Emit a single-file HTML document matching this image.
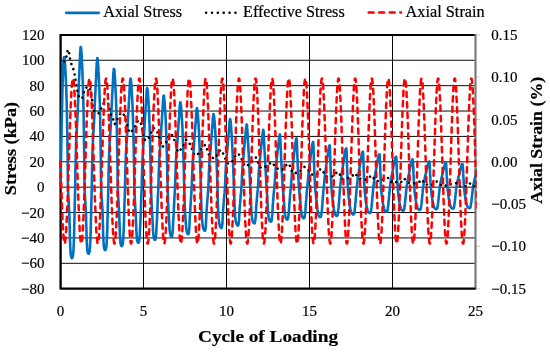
<!DOCTYPE html>
<html><head><meta charset="utf-8"><title>Cycle of Loading</title>
<style>
html,body{margin:0;padding:0;background:#fff;}
svg{display:block;}
text{font-family:"Liberation Serif",serif;fill:#000;stroke:#000;stroke-width:0.2px;}
.t{font-size:15.0px;}
.b{font-weight:bold;}
</style></head><body>
<svg width="550" height="353" viewBox="0 0 550 353">
<rect width="550" height="353" fill="#fff"/>
<g stroke="#0a0a0a" stroke-width="1" fill="none">
<line x1="60.5" y1="60.28" x2="475.5" y2="60.28"/>
<line x1="60.5" y1="85.66" x2="475.5" y2="85.66"/>
<line x1="60.5" y1="111.04" x2="475.5" y2="111.04"/>
<line x1="60.5" y1="136.42" x2="475.5" y2="136.42"/>
<line x1="60.5" y1="161.80" x2="475.5" y2="161.80"/>
<line x1="60.5" y1="187.18" x2="475.5" y2="187.18"/>
<line x1="60.5" y1="212.56" x2="475.5" y2="212.56"/>
<line x1="60.5" y1="237.94" x2="475.5" y2="237.94"/>
<line x1="60.5" y1="263.32" x2="475.5" y2="263.32"/>
<line x1="143.50" y1="34.9" x2="143.50" y2="288.7"/>
<line x1="226.50" y1="34.9" x2="226.50" y2="288.7"/>
<line x1="309.50" y1="34.9" x2="309.50" y2="288.7"/>
<line x1="392.50" y1="34.9" x2="392.50" y2="288.7"/>
</g>
<g stroke="#d0d0d0" stroke-width="1">
<line x1="475.5" y1="34.90" x2="480.0" y2="34.90"/>
<line x1="475.5" y1="77.20" x2="480.0" y2="77.20"/>
<line x1="475.5" y1="119.50" x2="480.0" y2="119.50"/>
<line x1="475.5" y1="161.80" x2="480.0" y2="161.80"/>
<line x1="475.5" y1="204.10" x2="480.0" y2="204.10"/>
<line x1="475.5" y1="246.40" x2="480.0" y2="246.40"/>
<line x1="475.5" y1="288.70" x2="480.0" y2="288.70"/>
</g>
<line x1="60.5" y1="34.9" x2="475.5" y2="34.9" stroke="#000" stroke-width="2"/>
<line x1="475.5" y1="33.9" x2="475.5" y2="289.7" stroke="#7a7a7a" stroke-width="2.2"/>
<polyline points="60.6,33.9 60.6,288.7 475.5,288.7" fill="none" stroke="#000" stroke-width="2.3" stroke-linejoin="round"/>
<clipPath id="pc"><rect x="57.5" y="34.9" width="419.2" height="253.79999999999998"/></clipPath>
<g clip-path="url(#pc)">
<path d="M60.5,187.2 L60.6,179.4 L60.8,171.7 L60.9,164.1 L61.1,156.5 L61.2,149.0 L61.3,141.7 L61.5,134.5 L61.6,127.5 L61.7,120.7 L61.9,114.2 L62.0,107.9 L62.2,101.9 L62.3,96.2 L62.4,90.8 L62.6,85.8 L62.7,81.1 L62.9,76.8 L63.0,72.9 L63.1,69.4 L63.3,66.3 L63.4,63.6 L63.5,61.4 L63.7,59.6 L63.8,58.3 L64.0,57.4 L64.1,57.0 L64.2,57.0 L64.4,57.3 L64.5,58.0 L64.7,59.1 L64.8,60.5 L64.9,62.3 L65.1,64.3 L65.2,66.5 L65.3,69.0 L65.5,71.6 L65.6,74.4 L65.8,77.3 L65.9,80.3 L66.0,83.3 L66.2,86.5 L66.3,90.3 L66.4,94.7 L66.6,99.7 L66.7,105.2 L66.9,111.2 L67.0,117.7 L67.1,125.0 L67.3,134.3 L67.4,144.6 L67.6,155.0 L67.7,166.2 L67.8,177.7 L68.0,187.2 L68.1,191.0 L68.2,194.2 L68.4,197.1 L68.5,199.7 L68.7,202.1 L68.8,204.4 L68.9,206.8 L69.1,209.4 L69.2,212.3 L69.4,215.6 L69.5,219.6 L69.6,224.8 L69.8,230.8 L69.9,236.8 L70.0,241.7 L70.2,245.1 L70.3,248.0 L70.5,250.5 L70.6,252.7 L70.7,254.3 L70.9,255.3 L71.0,255.9 L71.2,256.5 L71.3,257.0 L71.4,257.4 L71.6,257.7 L71.7,257.9 L71.8,258.1 L72.0,258.1 L72.1,258.0 L72.3,257.8 L72.4,257.5 L72.5,257.1 L72.7,256.6 L72.8,256.0 L73.0,255.4 L73.1,254.7 L73.2,253.4 L73.4,251.5 L73.5,249.2 L73.6,246.5 L73.8,243.5 L73.9,239.8 L74.1,234.9 L74.2,229.3 L74.3,223.3 L74.5,217.6 L74.6,211.8 L74.7,205.7 L74.9,199.4 L75.0,193.5 L75.2,188.1 L75.3,179.7 L75.4,170.6 L75.6,162.4 L75.7,155.8 L75.9,151.0 L76.0,146.9 L76.1,143.2 L76.3,139.9 L76.4,136.9 L76.5,134.1 L76.7,131.6 L76.8,129.1 L77.0,126.7 L77.1,124.3 L77.2,121.8 L77.4,119.2 L77.5,116.3 L77.7,113.2 L77.8,109.9 L77.9,106.4 L78.1,102.9 L78.2,99.4 L78.3,95.8 L78.5,92.3 L78.6,88.8 L78.8,85.4 L78.9,82.2 L79.0,79.1 L79.2,76.1 L79.3,72.8 L79.5,69.5 L79.6,66.0 L79.7,62.6 L79.9,59.3 L80.0,56.2 L80.1,53.4 L80.3,51.0 L80.4,49.0 L80.6,47.7 L80.7,47.0 L80.8,47.0 L81.0,47.6 L81.1,48.5 L81.2,49.9 L81.4,51.6 L81.5,53.6 L81.7,56.0 L81.8,58.6 L81.9,61.4 L82.1,64.4 L82.2,67.5 L82.4,70.7 L82.5,74.0 L82.6,77.4 L82.8,80.9 L82.9,85.1 L83.0,89.9 L83.2,95.2 L83.3,101.1 L83.5,107.6 L83.6,114.5 L83.7,122.2 L83.9,132.0 L84.0,142.8 L84.2,153.7 L84.3,165.3 L84.4,177.3 L84.6,187.2 L84.7,190.8 L84.8,193.9 L85.0,196.6 L85.1,199.1 L85.3,201.3 L85.4,203.6 L85.5,205.9 L85.7,208.3 L85.8,211.0 L86.0,214.1 L86.1,217.9 L86.2,222.8 L86.4,228.5 L86.5,234.1 L86.6,238.8 L86.8,241.9 L86.9,244.6 L87.1,247.0 L87.2,249.0 L87.3,250.5 L87.5,251.4 L87.6,251.9 L87.8,252.4 L87.9,252.9 L88.0,253.2 L88.2,253.5 L88.3,253.7 L88.4,253.8 L88.6,253.8 L88.7,253.7 L88.9,253.5 L89.0,253.2 L89.1,252.8 L89.3,252.4 L89.4,251.8 L89.6,251.3 L89.7,250.6 L89.8,249.4 L90.0,247.6 L90.1,245.4 L90.2,242.9 L90.4,240.1 L90.5,236.6 L90.7,232.0 L90.8,226.7 L90.9,221.2 L91.1,215.8 L91.2,210.4 L91.3,204.5 L91.5,198.7 L91.6,193.1 L91.8,188.1 L91.9,180.0 L92.0,171.3 L92.2,163.5 L92.3,157.2 L92.5,152.6 L92.6,148.7 L92.7,145.3 L92.9,142.2 L93.0,139.4 L93.1,136.8 L93.3,134.5 L93.4,132.2 L93.6,130.0 L93.7,127.8 L93.8,125.5 L94.0,123.1 L94.1,120.5 L94.3,117.6 L94.4,114.5 L94.5,111.4 L94.7,108.2 L94.8,105.0 L94.9,101.7 L95.1,98.5 L95.2,95.4 L95.4,92.3 L95.5,89.4 L95.6,86.6 L95.8,83.9 L95.9,81.0 L96.1,77.9 L96.2,74.8 L96.3,71.7 L96.5,68.8 L96.6,66.0 L96.7,63.5 L96.9,61.4 L97.0,59.7 L97.2,58.5 L97.3,58.0 L97.4,58.1 L97.6,58.7 L97.7,59.7 L97.8,61.0 L98.0,62.6 L98.1,64.6 L98.3,66.8 L98.4,69.3 L98.5,71.9 L98.7,74.7 L98.8,77.6 L99.0,80.6 L99.1,83.7 L99.2,86.8 L99.4,90.1 L99.5,93.9 L99.6,98.3 L99.8,103.3 L99.9,108.7 L100.1,114.6 L100.2,120.9 L100.3,128.0 L100.5,136.9 L100.6,146.8 L100.8,156.7 L100.9,167.3 L101.0,178.2 L101.2,187.2 L101.3,190.6 L101.4,193.5 L101.6,196.1 L101.7,198.4 L101.9,200.5 L102.0,202.7 L102.1,204.8 L102.3,207.1 L102.4,209.7 L102.6,212.6 L102.7,216.2 L102.8,220.9 L103.0,226.2 L103.1,231.5 L103.2,235.9 L103.4,238.9 L103.5,241.4 L103.7,243.7 L103.8,245.6 L103.9,247.0 L104.1,247.8 L104.2,248.4 L104.4,248.8 L104.5,249.2 L104.6,249.6 L104.8,249.8 L104.9,250.0 L105.0,250.1 L105.2,250.1 L105.3,250.0 L105.5,249.8 L105.6,249.5 L105.7,249.2 L105.9,248.8 L106.0,248.3 L106.2,247.7 L106.3,247.1 L106.4,245.9 L106.6,244.3 L106.7,242.2 L106.8,239.8 L107.0,237.2 L107.1,233.9 L107.3,229.5 L107.4,224.5 L107.5,219.3 L107.7,214.2 L107.8,209.1 L107.9,203.6 L108.1,198.1 L108.2,192.8 L108.4,188.0 L108.5,180.6 L108.6,172.7 L108.8,165.5 L108.9,159.8 L109.1,155.7 L109.2,152.1 L109.3,148.9 L109.5,146.1 L109.6,143.5 L109.7,141.2 L109.9,139.0 L110.0,136.9 L110.2,134.9 L110.3,132.9 L110.4,130.8 L110.6,128.6 L110.7,126.2 L110.9,123.5 L111.0,120.7 L111.1,117.9 L111.3,114.9 L111.4,112.0 L111.5,109.0 L111.7,106.1 L111.8,103.2 L112.0,100.3 L112.1,97.6 L112.2,95.1 L112.4,92.6 L112.5,89.9 L112.7,87.1 L112.8,84.3 L112.9,81.5 L113.1,78.7 L113.2,76.2 L113.3,73.9 L113.5,71.9 L113.6,70.4 L113.8,69.3 L113.9,68.8 L114.0,68.9 L114.2,69.4 L114.3,70.3 L114.5,71.6 L114.6,73.1 L114.7,74.9 L114.9,77.0 L115.0,79.3 L115.1,81.7 L115.3,84.3 L115.4,87.0 L115.6,89.8 L115.7,92.6 L115.8,95.5 L116.0,98.6 L116.1,102.2 L116.2,106.3 L116.4,110.9 L116.5,115.9 L116.7,121.3 L116.8,127.1 L116.9,133.6 L117.1,141.7 L117.2,150.6 L117.4,159.5 L117.5,169.0 L117.6,178.7 L117.8,186.8 L117.9,190.3 L118.0,193.3 L118.2,196.2 L118.3,198.8 L118.5,201.2 L118.6,203.5 L118.7,205.6 L118.9,207.9 L119.0,210.4 L119.2,213.1 L119.3,216.3 L119.4,220.5 L119.6,225.2 L119.7,229.8 L119.8,233.6 L120.0,236.3 L120.1,238.5 L120.3,240.4 L120.4,242.1 L120.5,243.3 L120.7,244.1 L120.8,244.6 L121.0,245.0 L121.1,245.4 L121.2,245.7 L121.4,245.9 L121.5,246.1 L121.6,246.2 L121.8,246.2 L121.9,246.1 L122.1,245.9 L122.2,245.6 L122.3,245.2 L122.5,244.7 L122.6,244.1 L122.8,243.5 L122.9,242.6 L123.0,241.2 L123.2,239.2 L123.3,237.0 L123.4,234.6 L123.6,232.0 L123.7,229.0 L123.9,225.1 L124.0,220.7 L124.1,216.1 L124.3,211.6 L124.4,207.2 L124.5,202.5 L124.7,197.7 L124.8,193.2 L125.0,189.0 L125.1,183.6 L125.2,176.8 L125.4,170.5 L125.5,165.2 L125.7,161.1 L125.8,157.4 L125.9,154.1 L126.1,151.2 L126.2,148.7 L126.3,146.3 L126.5,144.2 L126.6,142.1 L126.8,140.1 L126.9,138.1 L127.0,136.1 L127.2,134.0 L127.3,131.7 L127.5,129.3 L127.6,126.7 L127.7,124.1 L127.9,121.4 L128.0,118.7 L128.1,116.0 L128.3,113.3 L128.4,110.6 L128.6,108.0 L128.7,105.5 L128.8,103.2 L129.0,100.9 L129.1,98.4 L129.3,95.9 L129.4,93.2 L129.5,90.6 L129.7,88.0 L129.8,85.6 L129.9,83.4 L130.1,81.5 L130.2,80.1 L130.4,79.0 L130.5,78.6 L130.6,78.7 L130.8,79.2 L130.9,80.1 L131.1,81.2 L131.2,82.7 L131.3,84.5 L131.5,86.5 L131.6,88.6 L131.7,91.0 L131.9,93.4 L132.0,96.0 L132.2,98.6 L132.3,101.3 L132.4,104.0 L132.6,107.1 L132.7,110.5 L132.8,114.4 L133.0,118.7 L133.1,123.4 L133.3,128.4 L133.4,133.7 L133.5,139.7 L133.7,146.8 L133.8,154.6 L134.0,162.4 L134.1,170.5 L134.2,178.8 L134.4,186.1 L134.5,189.9 L134.6,193.4 L134.8,196.9 L134.9,200.2 L135.1,203.3 L135.2,205.9 L135.3,208.1 L135.5,210.4 L135.6,212.7 L135.8,215.2 L135.9,218.0 L136.0,221.5 L136.2,225.3 L136.3,229.0 L136.4,232.2 L136.6,234.4 L136.7,236.2 L136.9,237.9 L137.0,239.2 L137.1,240.3 L137.3,240.9 L137.4,241.3 L137.6,241.7 L137.7,242.1 L137.8,242.4 L138.0,242.6 L138.1,242.8 L138.2,242.9 L138.4,242.9 L138.5,242.8 L138.7,242.6 L138.8,242.3 L138.9,241.8 L139.1,241.2 L139.2,240.5 L139.4,239.7 L139.5,238.6 L139.6,236.8 L139.8,234.6 L139.9,232.1 L140.0,229.6 L140.2,227.2 L140.3,224.3 L140.5,220.9 L140.6,217.1 L140.7,213.1 L140.9,209.3 L141.0,205.5 L141.1,201.5 L141.3,197.5 L141.4,193.6 L141.6,190.1 L141.7,186.5 L141.8,180.6 L142.0,175.1 L142.1,170.3 L142.3,166.2 L142.4,162.4 L142.5,159.0 L142.7,156.0 L142.8,153.5 L142.9,151.1 L143.1,149.0 L143.2,146.9 L143.4,145.0 L143.5,143.1 L143.6,141.1 L143.8,139.1 L143.9,137.0 L144.1,134.8 L144.2,132.4 L144.3,130.0 L144.5,127.5 L144.6,125.1 L144.7,122.6 L144.9,120.1 L145.0,117.7 L145.2,115.4 L145.3,113.1 L145.4,110.9 L145.6,108.8 L145.7,106.6 L145.9,104.2 L146.0,101.8 L146.1,99.3 L146.3,96.9 L146.4,94.6 L146.5,92.6 L146.7,90.8 L146.8,89.4 L147.0,88.4 L147.1,88.0 L147.2,88.1 L147.4,88.5 L147.5,89.4 L147.7,90.5 L147.8,91.9 L147.9,93.6 L148.1,95.5 L148.2,97.5 L148.3,99.7 L148.5,102.0 L148.6,104.4 L148.8,106.9 L148.9,109.4 L149.0,112.0 L149.2,115.0 L149.3,118.3 L149.4,122.0 L149.6,126.0 L149.7,130.3 L149.9,134.8 L150.0,139.8 L150.1,145.2 L150.3,151.5 L150.4,158.3 L150.6,165.0 L150.7,171.9 L150.8,179.0 L151.0,185.5 L151.1,189.6 L151.2,193.4 L151.4,197.5 L151.5,201.5 L151.7,205.2 L151.8,208.0 L151.9,210.4 L152.1,212.6 L152.2,214.8 L152.4,217.1 L152.5,219.5 L152.6,222.3 L152.8,225.4 L152.9,228.4 L153.0,230.9 L153.2,232.7 L153.3,234.2 L153.5,235.5 L153.6,236.6 L153.7,237.5 L153.9,238.0 L154.0,238.4 L154.2,238.7 L154.3,239.1 L154.4,239.3 L154.6,239.5 L154.7,239.7 L154.8,239.8 L155.0,239.8 L155.1,239.8 L155.3,239.6 L155.4,239.2 L155.5,238.7 L155.7,238.0 L155.8,237.2 L155.9,236.3 L156.1,235.0 L156.2,232.9 L156.4,230.3 L156.5,227.6 L156.6,225.1 L156.8,222.7 L156.9,220.1 L157.1,217.0 L157.2,213.8 L157.3,210.4 L157.5,207.2 L157.6,204.0 L157.7,200.6 L157.9,197.3 L158.0,194.0 L158.2,191.0 L158.3,188.1 L158.4,183.8 L158.6,179.0 L158.7,174.5 L158.9,170.4 L159.0,166.5 L159.1,163.0 L159.3,160.0 L159.4,157.4 L159.5,155.1 L159.7,153.0 L159.8,150.9 L160.0,149.0 L160.1,147.1 L160.2,145.3 L160.4,143.4 L160.5,141.4 L160.7,139.3 L160.8,137.1 L160.9,134.8 L161.1,132.5 L161.2,130.3 L161.3,128.0 L161.5,125.7 L161.6,123.5 L161.8,121.3 L161.9,119.2 L162.0,117.2 L162.2,115.2 L162.3,113.1 L162.5,110.9 L162.6,108.6 L162.7,106.3 L162.9,104.0 L163.0,101.9 L163.1,99.9 L163.3,98.2 L163.4,96.8 L163.6,95.9 L163.7,95.5 L163.8,95.5 L164.0,96.0 L164.1,96.8 L164.2,97.9 L164.4,99.3 L164.5,100.9 L164.7,102.7 L164.8,104.7 L164.9,106.8 L165.1,109.0 L165.2,111.2 L165.4,113.5 L165.5,115.9 L165.6,118.5 L165.8,121.3 L165.9,124.5 L166.0,128.0 L166.2,131.8 L166.3,135.9 L166.5,140.1 L166.6,144.7 L166.7,149.7 L166.9,155.3 L167.0,161.3 L167.2,167.2 L167.3,173.1 L167.4,179.1 L167.6,185.0 L167.7,189.3 L167.8,193.4 L168.0,198.0 L168.1,202.6 L168.3,206.7 L168.4,209.8 L168.5,212.2 L168.7,214.4 L168.8,216.5 L169.0,218.6 L169.1,220.6 L169.2,222.9 L169.4,225.2 L169.5,227.5 L169.6,229.4 L169.8,230.8 L169.9,232.0 L170.1,233.1 L170.2,234.0 L170.3,234.6 L170.5,235.1 L170.6,235.4 L170.8,235.8 L170.9,236.0 L171.0,236.3 L171.2,236.5 L171.3,236.6 L171.4,236.7 L171.6,236.8 L171.7,236.7 L171.9,236.6 L172.0,236.2 L172.1,235.5 L172.3,234.8 L172.4,233.9 L172.6,232.9 L172.7,231.4 L172.8,229.1 L173.0,226.2 L173.1,223.4 L173.2,220.8 L173.4,218.5 L173.5,216.1 L173.7,213.4 L173.8,210.7 L173.9,207.9 L174.1,205.2 L174.2,202.5 L174.3,199.8 L174.5,197.0 L174.6,194.3 L174.8,191.8 L174.9,189.3 L175.0,186.6 L175.2,182.3 L175.3,178.1 L175.5,174.1 L175.6,170.1 L175.7,166.5 L175.9,163.4 L176.0,160.9 L176.1,158.6 L176.3,156.4 L176.4,154.4 L176.6,152.5 L176.7,150.7 L176.8,148.9 L177.0,147.1 L177.1,145.2 L177.3,143.2 L177.4,141.2 L177.5,139.1 L177.7,137.0 L177.8,134.8 L177.9,132.7 L178.1,130.7 L178.2,128.6 L178.4,126.6 L178.5,124.6 L178.6,122.7 L178.8,120.8 L178.9,118.9 L179.1,116.9 L179.2,114.8 L179.3,112.6 L179.5,110.4 L179.6,108.3 L179.7,106.5 L179.9,104.8 L180.0,103.5 L180.2,102.6 L180.3,102.2 L180.4,102.3 L180.6,102.7 L180.7,103.5 L180.9,104.5 L181.0,105.9 L181.1,107.4 L181.3,109.2 L181.4,111.0 L181.5,113.1 L181.7,115.2 L181.8,117.3 L182.0,119.5 L182.1,121.7 L182.2,124.2 L182.4,127.0 L182.5,130.1 L182.6,133.5 L182.8,137.1 L182.9,140.8 L183.1,144.7 L183.2,149.0 L183.3,153.6 L183.5,158.7 L183.6,164.0 L183.8,169.1 L183.9,174.1 L184.0,179.3 L184.2,184.6 L184.3,189.0 L184.4,193.4 L184.6,198.5 L184.7,203.6 L184.9,208.2 L185.0,211.5 L185.1,213.9 L185.3,216.1 L185.4,218.1 L185.6,220.0 L185.7,221.8 L185.8,223.5 L186.0,225.2 L186.1,226.9 L186.2,228.3 L186.4,229.4 L186.5,230.3 L186.7,231.1 L186.8,231.8 L186.9,232.3 L187.1,232.7 L187.2,233.0 L187.4,233.3 L187.5,233.5 L187.6,233.8 L187.8,233.9 L187.9,234.1 L188.0,234.2 L188.2,234.2 L188.3,234.2 L188.5,234.0 L188.6,233.6 L188.7,232.9 L188.9,232.1 L189.0,231.1 L189.2,230.0 L189.3,228.3 L189.4,225.8 L189.6,222.7 L189.7,219.7 L189.8,217.1 L190.0,214.9 L190.1,212.6 L190.3,210.3 L190.4,207.9 L190.5,205.6 L190.7,203.4 L190.8,201.2 L190.9,199.0 L191.1,196.8 L191.2,194.6 L191.4,192.5 L191.5,190.3 L191.6,188.2 L191.8,185.2 L191.9,181.3 L192.1,177.2 L192.2,173.2 L192.3,169.5 L192.5,166.4 L192.6,163.9 L192.7,161.6 L192.9,159.4 L193.0,157.5 L193.2,155.6 L193.3,153.8 L193.4,152.1 L193.6,150.3 L193.7,148.5 L193.9,146.7 L194.0,144.8 L194.1,142.8 L194.3,140.8 L194.4,138.9 L194.5,136.9 L194.7,135.0 L194.8,133.1 L195.0,131.2 L195.1,129.4 L195.2,127.6 L195.4,125.8 L195.5,124.1 L195.7,122.2 L195.8,120.2 L195.9,118.1 L196.1,116.0 L196.2,114.1 L196.3,112.3 L196.5,110.7 L196.6,109.4 L196.8,108.6 L196.9,108.1 L197.0,108.2 L197.2,108.7 L197.3,109.4 L197.5,110.4 L197.6,111.7 L197.7,113.2 L197.9,114.9 L198.0,116.7 L198.1,118.7 L198.3,120.7 L198.4,122.7 L198.6,124.8 L198.7,126.9 L198.8,129.3 L199.0,132.0 L199.1,135.1 L199.2,138.3 L199.4,141.7 L199.5,145.2 L199.7,148.9 L199.8,152.9 L199.9,157.2 L200.1,161.7 L200.2,166.3 L200.4,170.8 L200.5,175.0 L200.6,179.4 L200.8,184.2 L200.9,188.7 L201.0,193.3 L201.2,198.7 L201.3,204.1 L201.5,209.0 L201.6,212.4 L201.7,214.8 L201.9,217.0 L202.0,218.9 L202.2,220.5 L202.3,222.0 L202.4,223.2 L202.6,224.3 L202.7,225.4 L202.8,226.3 L203.0,227.1 L203.1,227.7 L203.3,228.3 L203.4,228.8 L203.5,229.2 L203.7,229.4 L203.8,229.7 L204.0,229.9 L204.1,230.2 L204.2,230.4 L204.4,230.5 L204.5,230.7 L204.6,230.8 L204.8,230.8 L204.9,230.8 L205.1,230.6 L205.2,230.2 L205.3,229.5 L205.5,228.6 L205.6,227.5 L205.8,226.4 L205.9,224.6 L206.0,221.9 L206.2,218.7 L206.3,215.6 L206.4,213.1 L206.6,211.0 L206.7,208.9 L206.9,206.9 L207.0,205.1 L207.1,203.2 L207.3,201.5 L207.4,199.8 L207.5,198.1 L207.7,196.4 L207.8,194.7 L208.0,193.0 L208.1,191.2 L208.2,189.4 L208.4,187.5 L208.5,184.0 L208.7,180.0 L208.8,176.0 L208.9,172.3 L209.1,169.2 L209.2,166.7 L209.3,164.4 L209.5,162.3 L209.6,160.3 L209.8,158.5 L209.9,156.8 L210.0,155.1 L210.2,153.4 L210.3,151.7 L210.5,150.0 L210.6,148.2 L210.7,146.4 L210.9,144.6 L211.0,142.8 L211.1,141.0 L211.3,139.2 L211.4,137.4 L211.6,135.7 L211.7,134.0 L211.8,132.3 L212.0,130.6 L212.1,129.0 L212.3,127.3 L212.4,125.4 L212.5,123.4 L212.7,121.5 L212.8,119.6 L212.9,117.9 L213.1,116.4 L213.2,115.2 L213.4,114.4 L213.5,114.0 L213.6,114.0 L213.8,114.5 L213.9,115.2 L214.1,116.2 L214.2,117.4 L214.3,118.8 L214.5,120.4 L214.6,122.1 L214.7,124.0 L214.9,125.9 L215.0,127.8 L215.2,129.7 L215.3,131.7 L215.4,134.0 L215.6,136.6 L215.7,139.5 L215.8,142.5 L216.0,145.7 L216.1,149.0 L216.3,152.4 L216.4,156.1 L216.5,160.0 L216.7,164.1 L216.8,168.2 L217.0,172.2 L217.1,175.9 L217.2,179.8 L217.4,184.2 L217.5,188.6 L217.6,193.0 L217.8,198.4 L217.9,203.8 L218.1,208.6 L218.2,212.0 L218.3,214.3 L218.5,216.3 L218.6,218.1 L218.8,219.6 L218.9,220.8 L219.0,221.8 L219.2,222.6 L219.3,223.4 L219.4,224.1 L219.6,224.7 L219.7,225.3 L219.9,225.8 L220.0,226.2 L220.1,226.5 L220.3,226.7 L220.4,227.0 L220.6,227.2 L220.7,227.4 L220.8,227.6 L221.0,227.7 L221.1,227.9 L221.2,228.0 L221.4,228.0 L221.5,228.0 L221.7,227.8 L221.8,227.4 L221.9,226.7 L222.1,225.9 L222.2,224.9 L222.4,223.8 L222.5,222.1 L222.6,219.5 L222.8,216.4 L222.9,213.5 L223.0,211.1 L223.2,209.1 L223.3,207.2 L223.5,205.4 L223.6,203.7 L223.7,202.1 L223.9,200.5 L224.0,198.9 L224.1,197.4 L224.3,195.8 L224.4,194.3 L224.6,192.7 L224.7,191.1 L224.8,189.3 L225.0,187.6 L225.1,184.4 L225.3,180.7 L225.4,176.9 L225.5,173.4 L225.7,170.5 L225.8,168.1 L225.9,166.0 L226.1,164.0 L226.2,162.2 L226.4,160.5 L226.5,158.9 L226.6,157.3 L226.8,155.8 L226.9,154.2 L227.1,152.6 L227.2,150.9 L227.3,149.2 L227.5,147.5 L227.6,145.8 L227.7,144.1 L227.9,142.4 L228.0,140.8 L228.2,139.1 L228.3,137.5 L228.4,136.0 L228.6,134.4 L228.7,132.9 L228.9,131.3 L229.0,129.5 L229.1,127.7 L229.3,125.9 L229.4,124.2 L229.5,122.6 L229.7,121.3 L229.8,120.2 L230.0,119.4 L230.1,119.1 L230.2,119.1 L230.4,119.7 L230.5,120.6 L230.7,121.8 L230.8,123.2 L230.9,124.7 L231.1,126.5 L231.2,128.3 L231.3,130.3 L231.5,132.3 L231.6,134.3 L231.8,136.3 L231.9,138.3 L232.0,140.6 L232.2,143.2 L232.3,146.0 L232.4,148.9 L232.6,152.0 L232.7,155.1 L232.9,158.3 L233.0,161.8 L233.1,165.5 L233.3,169.3 L233.4,173.2 L233.6,176.8 L233.7,180.3 L233.8,183.8 L234.0,187.5 L234.1,190.4 L234.2,194.4 L234.4,199.2 L234.5,204.1 L234.7,208.3 L234.8,211.4 L234.9,213.5 L235.1,215.3 L235.2,216.9 L235.4,218.2 L235.5,219.3 L235.6,220.2 L235.8,221.0 L235.9,221.6 L236.0,222.3 L236.2,222.8 L236.3,223.3 L236.5,223.8 L236.6,224.1 L236.7,224.4 L236.9,224.6 L237.0,224.8 L237.2,225.0 L237.3,225.2 L237.4,225.4 L237.6,225.5 L237.7,225.6 L237.8,225.6 L238.0,225.6 L238.1,225.5 L238.3,225.3 L238.4,224.7 L238.5,224.0 L238.7,223.1 L238.8,222.0 L239.0,220.9 L239.1,219.2 L239.2,216.8 L239.4,214.0 L239.5,211.3 L239.6,209.0 L239.8,207.0 L239.9,205.2 L240.1,203.4 L240.2,201.7 L240.3,200.0 L240.5,198.4 L240.6,196.9 L240.7,195.4 L240.9,194.0 L241.0,192.5 L241.2,191.0 L241.3,189.5 L241.4,188.0 L241.6,185.7 L241.7,182.8 L241.9,179.5 L242.0,176.2 L242.1,173.2 L242.3,170.7 L242.4,168.6 L242.5,166.7 L242.7,164.9 L242.8,163.3 L243.0,161.7 L243.1,160.2 L243.2,158.7 L243.4,157.3 L243.5,155.8 L243.7,154.3 L243.8,152.8 L243.9,151.2 L244.1,149.6 L244.2,148.1 L244.3,146.5 L244.5,145.0 L244.6,143.4 L244.8,141.9 L244.9,140.5 L245.0,139.0 L245.2,137.6 L245.3,136.3 L245.5,134.8 L245.6,133.3 L245.7,131.7 L245.9,130.2 L246.0,128.7 L246.1,127.4 L246.3,126.2 L246.4,125.3 L246.6,124.7 L246.7,124.4 L246.8,124.6 L247.0,125.6 L247.1,127.2 L247.3,129.3 L247.4,131.5 L247.5,133.7 L247.7,136.0 L247.8,138.4 L247.9,140.8 L248.1,143.3 L248.2,145.6 L248.4,147.9 L248.5,150.1 L248.6,152.5 L248.8,155.0 L248.9,157.7 L249.0,160.5 L249.2,163.3 L249.3,166.2 L249.5,169.1 L249.6,172.2 L249.7,175.5 L249.9,178.9 L250.0,182.2 L250.2,185.4 L250.3,187.9 L250.4,189.7 L250.6,191.7 L250.7,194.1 L250.8,197.5 L251.0,201.4 L251.1,205.4 L251.3,209.0 L251.4,211.5 L251.5,213.3 L251.7,214.8 L251.8,216.2 L252.0,217.3 L252.1,218.2 L252.2,219.0 L252.4,219.6 L252.5,220.2 L252.6,220.7 L252.8,221.2 L252.9,221.6 L253.1,222.0 L253.2,222.3 L253.3,222.5 L253.5,222.7 L253.6,222.9 L253.8,223.0 L253.9,223.2 L254.0,223.3 L254.2,223.3 L254.3,223.4 L254.4,223.3 L254.6,223.3 L254.7,223.1 L254.9,222.7 L255.0,222.1 L255.1,221.2 L255.3,220.2 L255.4,219.1 L255.6,218.0 L255.7,216.3 L255.8,214.1 L256.0,211.5 L256.1,209.0 L256.2,206.9 L256.4,205.0 L256.5,203.1 L256.7,201.3 L256.8,199.6 L256.9,197.9 L257.1,196.3 L257.2,194.9 L257.3,193.5 L257.5,192.1 L257.6,190.8 L257.8,189.4 L257.9,188.0 L258.0,186.2 L258.2,183.8 L258.3,181.3 L258.5,178.5 L258.6,175.8 L258.7,173.2 L258.9,171.1 L259.0,169.3 L259.1,167.6 L259.3,166.0 L259.4,164.5 L259.6,163.1 L259.7,161.8 L259.8,160.4 L260.0,159.1 L260.1,157.7 L260.3,156.4 L260.4,154.9 L260.5,153.5 L260.7,152.1 L260.8,150.6 L260.9,149.2 L261.1,147.8 L261.2,146.4 L261.4,145.0 L261.5,143.7 L261.6,142.4 L261.8,141.1 L261.9,139.9 L262.1,138.6 L262.2,137.3 L262.3,135.9 L262.5,134.6 L262.6,133.4 L262.7,132.3 L262.9,131.3 L263.0,130.6 L263.2,130.1 L263.3,129.8 L263.4,130.1 L263.6,131.5 L263.7,133.7 L263.9,136.5 L264.0,139.4 L264.1,142.1 L264.3,144.8 L264.4,147.6 L264.5,150.4 L264.7,153.2 L264.8,155.8 L265.0,158.1 L265.1,160.5 L265.2,162.9 L265.4,165.4 L265.5,167.9 L265.6,170.5 L265.8,173.1 L265.9,175.8 L266.1,178.4 L266.2,181.2 L266.3,184.1 L266.5,187.0 L266.6,188.8 L266.8,190.6 L266.9,192.1 L267.0,193.7 L267.2,195.5 L267.3,197.5 L267.4,200.3 L267.6,203.6 L267.7,206.8 L267.9,209.7 L268.0,211.8 L268.1,213.3 L268.3,214.6 L268.4,215.8 L268.6,216.7 L268.7,217.5 L268.8,218.1 L269.0,218.6 L269.1,219.1 L269.2,219.6 L269.4,220.0 L269.5,220.3 L269.7,220.6 L269.8,220.9 L269.9,221.1 L270.1,221.3 L270.2,221.4 L270.4,221.5 L270.5,221.6 L270.6,221.7 L270.8,221.7 L270.9,221.7 L271.0,221.6 L271.2,221.5 L271.3,221.2 L271.5,220.7 L271.6,220.0 L271.7,219.0 L271.9,217.9 L272.0,216.8 L272.1,215.5 L272.3,213.9 L272.4,211.8 L272.6,209.4 L272.7,207.1 L272.8,205.1 L273.0,203.2 L273.1,201.3 L273.3,199.5 L273.4,197.8 L273.5,196.1 L273.7,194.5 L273.8,193.1 L273.9,191.8 L274.1,190.5 L274.2,189.2 L274.4,187.9 L274.5,186.3 L274.6,184.3 L274.8,182.2 L274.9,180.0 L275.1,177.7 L275.2,175.4 L275.3,173.3 L275.5,171.4 L275.6,169.8 L275.7,168.3 L275.9,166.9 L276.0,165.6 L276.2,164.3 L276.3,163.1 L276.4,161.8 L276.6,160.6 L276.7,159.4 L276.9,158.1 L277.0,156.7 L277.1,155.4 L277.3,154.1 L277.4,152.7 L277.5,151.4 L277.7,150.1 L277.8,148.8 L278.0,147.6 L278.1,146.3 L278.2,145.1 L278.4,144.0 L278.5,142.9 L278.7,141.7 L278.8,140.5 L278.9,139.4 L279.1,138.3 L279.2,137.2 L279.3,136.3 L279.5,135.5 L279.6,134.9 L279.8,134.5 L279.9,134.3 L280.0,134.6 L280.2,136.3 L280.3,139.1 L280.5,142.4 L280.6,145.9 L280.7,149.0 L280.9,152.0 L281.0,155.2 L281.1,158.3 L281.3,161.4 L281.4,164.2 L281.6,166.7 L281.7,169.2 L281.8,171.6 L282.0,174.1 L282.1,176.5 L282.2,178.9 L282.4,181.4 L282.5,183.8 L282.7,186.2 L282.8,188.2 L282.9,189.8 L283.1,191.4 L283.2,193.0 L283.4,194.5 L283.5,195.9 L283.6,197.3 L283.8,198.7 L283.9,200.4 L284.0,202.6 L284.2,205.2 L284.3,207.7 L284.5,210.0 L284.6,211.7 L284.7,212.9 L284.9,214.0 L285.0,214.9 L285.2,215.6 L285.3,216.3 L285.4,216.8 L285.6,217.2 L285.7,217.6 L285.8,217.9 L286.0,218.3 L286.1,218.6 L286.3,218.8 L286.4,219.0 L286.5,219.2 L286.7,219.3 L286.8,219.4 L287.0,219.5 L287.1,219.6 L287.2,219.6 L287.4,219.5 L287.5,219.5 L287.6,219.4 L287.8,219.2 L287.9,218.9 L288.1,218.3 L288.2,217.4 L288.3,216.4 L288.5,215.3 L288.6,214.1 L288.8,212.8 L288.9,211.3 L289.0,209.3 L289.2,207.1 L289.3,205.0 L289.4,203.1 L289.6,201.3 L289.7,199.5 L289.9,197.7 L290.0,196.0 L290.1,194.3 L290.3,192.8 L290.4,191.4 L290.5,190.2 L290.7,188.9 L290.8,187.7 L291.0,186.2 L291.1,184.4 L291.2,182.6 L291.4,180.8 L291.5,179.0 L291.7,177.0 L291.8,175.1 L291.9,173.3 L292.1,171.7 L292.2,170.3 L292.3,169.0 L292.5,167.7 L292.6,166.5 L292.8,165.4 L292.9,164.2 L293.0,163.1 L293.2,161.9 L293.3,160.8 L293.5,159.6 L293.6,158.3 L293.7,157.1 L293.9,155.8 L294.0,154.6 L294.1,153.4 L294.3,152.2 L294.4,151.0 L294.6,149.8 L294.7,148.7 L294.8,147.6 L295.0,146.5 L295.1,145.5 L295.3,144.4 L295.4,143.4 L295.5,142.4 L295.7,141.5 L295.8,140.6 L295.9,139.8 L296.1,139.2 L296.2,138.7 L296.4,138.4 L296.5,138.2 L296.6,138.6 L296.8,140.6 L296.9,143.8 L297.1,147.6 L297.2,151.6 L297.3,155.0 L297.5,158.3 L297.6,161.8 L297.7,165.2 L297.9,168.5 L298.0,171.5 L298.2,174.1 L298.3,176.6 L298.4,179.1 L298.6,181.5 L298.7,183.9 L298.8,186.2 L299.0,188.0 L299.1,189.5 L299.3,191.0 L299.4,192.4 L299.5,193.9 L299.7,195.4 L299.8,196.8 L300.0,198.1 L300.1,199.4 L300.2,200.6 L300.4,201.8 L300.5,203.2 L300.6,204.9 L300.8,206.9 L300.9,208.9 L301.1,210.6 L301.2,212.0 L301.3,212.9 L301.5,213.8 L301.6,214.6 L301.8,215.2 L301.9,215.7 L302.0,216.1 L302.2,216.4 L302.3,216.8 L302.4,217.1 L302.6,217.3 L302.7,217.6 L302.9,217.8 L303.0,217.9 L303.1,218.1 L303.3,218.2 L303.4,218.3 L303.6,218.3 L303.7,218.4 L303.8,218.3 L304.0,218.3 L304.1,218.2 L304.2,218.0 L304.4,217.8 L304.5,217.4 L304.7,216.7 L304.8,215.8 L304.9,214.6 L305.1,213.4 L305.2,212.2 L305.4,210.9 L305.5,209.4 L305.6,207.5 L305.8,205.5 L305.9,203.5 L306.0,201.7 L306.2,199.9 L306.3,198.1 L306.5,196.3 L306.6,194.5 L306.7,192.8 L306.9,191.3 L307.0,190.0 L307.1,188.7 L307.3,187.6 L307.4,186.1 L307.6,184.5 L307.7,182.9 L307.8,181.3 L308.0,179.7 L308.1,178.1 L308.3,176.5 L308.4,174.9 L308.5,173.5 L308.7,172.1 L308.8,170.9 L308.9,169.7 L309.1,168.6 L309.2,167.5 L309.4,166.4 L309.5,165.4 L309.6,164.3 L309.8,163.3 L309.9,162.2 L310.1,161.1 L310.2,159.9 L310.3,158.8 L310.5,157.6 L310.6,156.5 L310.7,155.4 L310.9,154.2 L311.0,153.1 L311.2,152.1 L311.3,151.0 L311.4,150.0 L311.6,149.0 L311.7,148.1 L311.9,147.2 L312.0,146.3 L312.1,145.4 L312.3,144.7 L312.4,143.9 L312.5,143.3 L312.7,142.8 L312.8,142.4 L313.0,142.1 L313.1,142.0 L313.2,142.4 L313.4,144.6 L313.5,148.2 L313.7,152.4 L313.8,156.7 L313.9,160.4 L314.1,164.0 L314.2,167.7 L314.3,171.3 L314.5,174.7 L314.6,177.8 L314.8,180.6 L314.9,183.1 L315.0,185.6 L315.2,187.7 L315.3,189.2 L315.4,190.7 L315.6,192.2 L315.7,193.6 L315.9,195.0 L316.0,196.4 L316.1,197.7 L316.3,199.1 L316.4,200.3 L316.6,201.5 L316.7,202.6 L316.8,203.6 L317.0,204.7 L317.1,205.8 L317.2,207.1 L317.4,208.5 L317.5,209.9 L317.7,211.2 L317.8,212.2 L317.9,213.0 L318.1,213.7 L318.2,214.3 L318.4,214.7 L318.5,215.1 L318.6,215.4 L318.8,215.7 L318.9,216.0 L319.0,216.2 L319.2,216.4 L319.3,216.6 L319.5,216.8 L319.6,216.9 L319.7,217.0 L319.9,217.1 L320.0,217.1 L320.2,217.2 L320.3,217.2 L320.4,217.1 L320.6,217.0 L320.7,216.9 L320.8,216.7 L321.0,216.5 L321.1,216.0 L321.3,215.2 L321.4,214.1 L321.5,212.9 L321.7,211.7 L321.8,210.4 L322.0,209.1 L322.1,207.5 L322.2,205.8 L322.4,203.9 L322.5,202.1 L322.6,200.3 L322.8,198.6 L322.9,196.8 L323.1,194.9 L323.2,193.1 L323.3,191.4 L323.5,189.9 L323.6,188.6 L323.7,187.4 L323.9,186.0 L324.0,184.4 L324.2,182.9 L324.3,181.5 L324.4,180.1 L324.6,178.8 L324.7,177.5 L324.9,176.1 L325.0,174.8 L325.1,173.6 L325.3,172.5 L325.4,171.4 L325.5,170.4 L325.7,169.4 L325.8,168.4 L326.0,167.4 L326.1,166.4 L326.2,165.5 L326.4,164.5 L326.5,163.4 L326.7,162.4 L326.8,161.3 L326.9,160.3 L327.1,159.2 L327.2,158.1 L327.3,157.1 L327.5,156.0 L327.6,155.0 L327.8,154.0 L327.9,153.1 L328.0,152.1 L328.2,151.2 L328.3,150.4 L328.5,149.6 L328.6,148.8 L328.7,148.1 L328.9,147.4 L329.0,146.8 L329.1,146.3 L329.3,145.9 L329.4,145.6 L329.6,145.4 L329.7,145.3 L329.8,145.8 L330.0,148.2 L330.1,152.0 L330.2,156.6 L330.4,161.2 L330.5,165.1 L330.7,168.8 L330.8,172.7 L330.9,176.5 L331.1,180.1 L331.2,183.3 L331.4,186.1 L331.5,188.2 L331.6,189.9 L331.8,191.6 L331.9,193.1 L332.0,194.5 L332.2,195.9 L332.3,197.3 L332.5,198.6 L332.6,199.9 L332.7,201.1 L332.9,202.3 L333.0,203.5 L333.2,204.5 L333.3,205.4 L333.4,206.3 L333.6,207.2 L333.7,208.0 L333.8,208.9 L334.0,209.9 L334.1,210.8 L334.3,211.6 L334.4,212.3 L334.5,212.8 L334.7,213.4 L334.8,213.8 L335.0,214.1 L335.1,214.4 L335.2,214.6 L335.4,214.8 L335.5,215.0 L335.6,215.2 L335.8,215.4 L335.9,215.5 L336.1,215.6 L336.2,215.7 L336.3,215.8 L336.5,215.9 L336.6,215.9 L336.8,215.9 L336.9,215.9 L337.0,215.8 L337.2,215.6 L337.3,215.4 L337.4,215.2 L337.6,215.0 L337.7,214.4 L337.9,213.6 L338.0,212.5 L338.1,211.2 L338.3,209.9 L338.4,208.6 L338.6,207.2 L338.7,205.7 L338.8,204.0 L339.0,202.3 L339.1,200.6 L339.2,199.0 L339.4,197.3 L339.5,195.5 L339.7,193.6 L339.8,191.8 L339.9,190.2 L340.1,188.6 L340.2,187.4 L340.3,185.9 L340.5,184.4 L340.6,183.0 L340.8,181.7 L340.9,180.4 L341.0,179.2 L341.2,178.0 L341.3,176.9 L341.5,175.8 L341.6,174.8 L341.7,173.8 L341.9,172.8 L342.0,171.9 L342.1,171.0 L342.3,170.1 L342.4,169.2 L342.6,168.3 L342.7,167.4 L342.8,166.5 L343.0,165.6 L343.1,164.6 L343.3,163.7 L343.4,162.7 L343.5,161.7 L343.7,160.7 L343.8,159.7 L343.9,158.7 L344.1,157.8 L344.2,156.8 L344.4,155.9 L344.5,155.0 L344.6,154.2 L344.8,153.3 L344.9,152.6 L345.1,151.9 L345.2,151.2 L345.3,150.6 L345.5,150.0 L345.6,149.5 L345.7,149.1 L345.9,148.8 L346.0,148.6 L346.2,148.4 L346.3,148.3 L346.4,148.8 L346.6,151.3 L346.7,155.2 L346.9,159.9 L347.0,164.6 L347.1,168.6 L347.3,172.3 L347.4,176.2 L347.5,179.9 L347.7,183.5 L347.8,186.6 L348.0,188.7 L348.1,190.5 L348.2,192.2 L348.4,193.8 L348.5,195.3 L348.6,196.6 L348.8,197.9 L348.9,199.2 L349.1,200.4 L349.2,201.6 L349.3,202.7 L349.5,203.8 L349.6,204.7 L349.8,205.7 L349.9,206.5 L350.0,207.2 L350.2,207.9 L350.3,208.6 L350.4,209.3 L350.6,209.9 L350.7,210.5 L350.9,211.1 L351.0,211.6 L351.1,212.1 L351.3,212.5 L351.4,212.9 L351.6,213.1 L351.7,213.3 L351.8,213.5 L352.0,213.7 L352.1,213.8 L352.2,214.0 L352.4,214.1 L352.5,214.2 L352.7,214.3 L352.8,214.4 L352.9,214.5 L353.1,214.5 L353.2,214.5 L353.4,214.5 L353.5,214.5 L353.6,214.4 L353.8,214.2 L353.9,214.1 L354.0,213.8 L354.2,213.6 L354.3,213.1 L354.5,212.2 L354.6,211.1 L354.7,209.9 L354.9,208.6 L355.0,207.3 L355.2,206.0 L355.3,204.6 L355.4,203.0 L355.6,201.4 L355.7,199.8 L355.8,198.3 L356.0,196.6 L356.1,194.9 L356.3,193.1 L356.4,191.4 L356.5,189.8 L356.7,188.4 L356.8,187.2 L356.9,185.8 L357.1,184.4 L357.2,183.1 L357.4,181.9 L357.5,180.8 L357.6,179.7 L357.8,178.6 L357.9,177.6 L358.1,176.7 L358.2,175.8 L358.3,174.9 L358.5,174.0 L358.6,173.2 L358.7,172.3 L358.9,171.5 L359.0,170.7 L359.2,169.9 L359.3,169.1 L359.4,168.3 L359.6,167.4 L359.7,166.5 L359.9,165.6 L360.0,164.7 L360.1,163.8 L360.3,162.9 L360.4,162.0 L360.5,161.1 L360.7,160.3 L360.8,159.4 L361.0,158.6 L361.1,157.7 L361.2,157.0 L361.4,156.2 L361.5,155.5 L361.7,154.8 L361.8,154.2 L361.9,153.7 L362.1,153.2 L362.2,152.7 L362.3,152.4 L362.5,152.1 L362.6,151.8 L362.8,151.7 L362.9,151.6 L363.0,152.1 L363.2,154.3 L363.3,158.0 L363.5,162.2 L363.6,166.5 L363.7,170.1 L363.9,173.6 L364.0,177.1 L364.1,180.5 L364.3,183.8 L364.4,186.7 L364.6,188.6 L364.7,190.4 L364.8,192.0 L365.0,193.4 L365.1,194.8 L365.2,196.1 L365.4,197.3 L365.5,198.5 L365.7,199.7 L365.8,200.8 L365.9,201.9 L366.1,202.9 L366.2,203.8 L366.4,204.6 L366.5,205.4 L366.6,206.1 L366.8,206.8 L366.9,207.4 L367.0,208.1 L367.2,208.7 L367.3,209.2 L367.5,209.8 L367.6,210.3 L367.7,210.7 L367.9,211.1 L368.0,211.4 L368.2,211.7 L368.3,211.9 L368.4,212.1 L368.6,212.2 L368.7,212.4 L368.8,212.5 L369.0,212.6 L369.1,212.7 L369.3,212.8 L369.4,212.9 L369.5,213.0 L369.7,213.0 L369.8,213.0 L370.0,213.0 L370.1,213.0 L370.2,212.9 L370.4,212.7 L370.5,212.6 L370.6,212.4 L370.8,212.1 L370.9,211.6 L371.1,210.8 L371.2,209.8 L371.3,208.6 L371.5,207.4 L371.6,206.2 L371.8,205.0 L371.9,203.6 L372.0,202.1 L372.2,200.6 L372.3,199.1 L372.4,197.6 L372.6,196.1 L372.7,194.5 L372.9,192.8 L373.0,191.2 L373.1,189.7 L373.3,188.3 L373.4,187.2 L373.5,185.9 L373.7,184.6 L373.8,183.5 L374.0,182.3 L374.1,181.3 L374.2,180.3 L374.4,179.3 L374.5,178.4 L374.7,177.5 L374.8,176.6 L374.9,175.8 L375.1,175.0 L375.2,174.2 L375.3,173.4 L375.5,172.7 L375.6,171.9 L375.8,171.2 L375.9,170.4 L376.0,169.6 L376.2,168.9 L376.3,168.0 L376.5,167.2 L376.6,166.4 L376.7,165.5 L376.9,164.7 L377.0,163.9 L377.1,163.0 L377.3,162.2 L377.4,161.4 L377.6,160.6 L377.7,159.9 L377.8,159.1 L378.0,158.4 L378.1,157.8 L378.3,157.2 L378.4,156.6 L378.5,156.1 L378.7,155.6 L378.8,155.2 L378.9,154.9 L379.1,154.6 L379.2,154.4 L379.4,154.2 L379.5,154.2 L379.6,154.6 L379.8,156.7 L379.9,160.0 L380.1,164.0 L380.2,168.0 L380.3,171.4 L380.5,174.5 L380.6,177.8 L380.7,181.0 L380.9,184.0 L381.0,186.7 L381.2,188.6 L381.3,190.2 L381.4,191.7 L381.6,193.1 L381.7,194.4 L381.8,195.7 L382.0,196.8 L382.1,197.9 L382.3,199.0 L382.4,200.1 L382.5,201.1 L382.7,202.0 L382.8,202.9 L383.0,203.7 L383.1,204.5 L383.2,205.2 L383.4,205.8 L383.5,206.4 L383.6,207.0 L383.8,207.6 L383.9,208.1 L384.1,208.6 L384.2,209.1 L384.3,209.5 L384.5,209.9 L384.6,210.2 L384.8,210.5 L384.9,210.6 L385.0,210.8 L385.2,210.9 L385.3,211.1 L385.4,211.2 L385.6,211.3 L385.7,211.4 L385.9,211.5 L386.0,211.6 L386.1,211.7 L386.3,211.7 L386.4,211.7 L386.6,211.7 L386.7,211.7 L386.8,211.6 L387.0,211.5 L387.1,211.3 L387.2,211.1 L387.4,210.9 L387.5,210.4 L387.7,209.6 L387.8,208.7 L387.9,207.5 L388.1,206.4 L388.2,205.3 L388.4,204.1 L388.5,202.8 L388.6,201.4 L388.8,200.0 L388.9,198.5 L389.0,197.1 L389.2,195.7 L389.3,194.1 L389.5,192.5 L389.6,191.0 L389.7,189.6 L389.9,188.3 L390.0,187.2 L390.1,186.0 L390.3,184.8 L390.4,183.7 L390.6,182.7 L390.7,181.7 L390.8,180.8 L391.0,179.9 L391.1,179.0 L391.3,178.2 L391.4,177.4 L391.5,176.6 L391.7,175.9 L391.8,175.2 L391.9,174.5 L392.1,173.8 L392.2,173.1 L392.4,172.4 L392.5,171.7 L392.6,171.0 L392.8,170.2 L392.9,169.5 L393.1,168.7 L393.2,168.0 L393.3,167.2 L393.5,166.4 L393.6,165.6 L393.7,164.9 L393.9,164.1 L394.0,163.4 L394.2,162.6 L394.3,161.9 L394.4,161.3 L394.6,160.6 L394.7,160.0 L394.9,159.5 L395.0,158.9 L395.1,158.5 L395.3,158.0 L395.4,157.7 L395.5,157.3 L395.7,157.1 L395.8,156.9 L396.0,156.8 L396.1,156.7 L396.2,157.1 L396.4,159.0 L396.5,162.1 L396.7,165.8 L396.8,169.5 L396.9,172.6 L397.1,175.5 L397.2,178.5 L397.3,181.5 L397.5,184.3 L397.6,186.7 L397.8,188.5 L397.9,190.1 L398.0,191.5 L398.2,192.9 L398.3,194.1 L398.4,195.3 L398.6,196.4 L398.7,197.5 L398.9,198.5 L399.0,199.5 L399.1,200.5 L399.3,201.4 L399.4,202.2 L399.6,203.0 L399.7,203.7 L399.8,204.4 L400.0,205.0 L400.1,205.6 L400.2,206.1 L400.4,206.7 L400.5,207.2 L400.7,207.7 L400.8,208.2 L400.9,208.6 L401.1,208.9 L401.2,209.2 L401.4,209.5 L401.5,209.6 L401.6,209.8 L401.8,209.9 L401.9,210.1 L402.0,210.2 L402.2,210.3 L402.3,210.4 L402.5,210.5 L402.6,210.6 L402.7,210.6 L402.9,210.7 L403.0,210.7 L403.2,210.7 L403.3,210.7 L403.4,210.6 L403.6,210.5 L403.7,210.3 L403.8,210.1 L404.0,209.9 L404.1,209.4 L404.3,208.7 L404.4,207.8 L404.5,206.7 L404.7,205.6 L404.8,204.5 L405.0,203.4 L405.1,202.2 L405.2,200.8 L405.4,199.5 L405.5,198.1 L405.6,196.7 L405.8,195.3 L405.9,193.8 L406.1,192.3 L406.2,190.9 L406.3,189.5 L406.5,188.2 L406.6,187.2 L406.7,186.1 L406.9,185.0 L407.0,184.0 L407.2,183.1 L407.3,182.2 L407.4,181.3 L407.6,180.5 L407.7,179.7 L407.9,179.0 L408.0,178.2 L408.1,177.5 L408.3,176.9 L408.4,176.2 L408.5,175.6 L408.7,174.9 L408.8,174.3 L409.0,173.6 L409.1,173.0 L409.2,172.4 L409.4,171.7 L409.5,171.0 L409.7,170.3 L409.8,169.6 L409.9,168.9 L410.1,168.2 L410.2,167.5 L410.3,166.8 L410.5,166.1 L410.6,165.4 L410.8,164.8 L410.9,164.2 L411.0,163.5 L411.2,163.0 L411.3,162.4 L411.5,161.9 L411.6,161.4 L411.7,161.0 L411.9,160.6 L412.0,160.2 L412.1,159.9 L412.3,159.7 L412.4,159.5 L412.6,159.4 L412.7,159.4 L412.8,159.7 L413.0,161.5 L413.1,164.3 L413.3,167.7 L413.4,171.0 L413.5,173.9 L413.7,176.5 L413.8,179.3 L413.9,182.0 L414.1,184.5 L414.2,186.8 L414.4,188.5 L414.5,190.0 L414.6,191.4 L414.8,192.7 L414.9,193.9 L415.0,195.0 L415.2,196.1 L415.3,197.1 L415.5,198.1 L415.6,199.1 L415.7,200.0 L415.9,200.9 L416.0,201.7 L416.2,202.5 L416.3,203.2 L416.4,203.8 L416.6,204.4 L416.7,204.9 L416.8,205.5 L417.0,206.0 L417.1,206.5 L417.3,207.0 L417.4,207.5 L417.5,207.9 L417.7,208.2 L417.8,208.5 L418.0,208.7 L418.1,208.9 L418.2,209.0 L418.4,209.2 L418.5,209.3 L418.6,209.4 L418.8,209.6 L418.9,209.7 L419.1,209.7 L419.2,209.8 L419.3,209.9 L419.5,209.9 L419.6,209.9 L419.8,209.9 L419.9,209.9 L420.0,209.8 L420.2,209.7 L420.3,209.5 L420.4,209.4 L420.6,209.2 L420.7,208.7 L420.9,208.0 L421.0,207.1 L421.1,206.1 L421.3,205.0 L421.4,204.0 L421.6,202.9 L421.7,201.7 L421.8,200.4 L422.0,199.1 L422.1,197.7 L422.2,196.4 L422.4,195.1 L422.5,193.6 L422.7,192.2 L422.8,190.7 L422.9,189.4 L423.1,188.2 L423.2,187.2 L423.3,186.2 L423.5,185.2 L423.6,184.3 L423.8,183.4 L423.9,182.6 L424.0,181.8 L424.2,181.0 L424.3,180.3 L424.5,179.6 L424.6,178.9 L424.7,178.3 L424.9,177.7 L425.0,177.1 L425.1,176.5 L425.3,175.9 L425.4,175.3 L425.6,174.7 L425.7,174.1 L425.8,173.5 L426.0,172.9 L426.1,172.3 L426.3,171.6 L426.4,171.0 L426.5,170.3 L426.7,169.7 L426.8,169.0 L426.9,168.4 L427.1,167.7 L427.2,167.1 L427.4,166.5 L427.5,165.9 L427.6,165.3 L427.8,164.8 L427.9,164.3 L428.1,163.8 L428.2,163.3 L428.3,162.9 L428.5,162.6 L428.6,162.2 L428.7,162.0 L428.9,161.7 L429.0,161.6 L429.2,161.5 L429.3,161.4 L429.4,161.7 L429.6,163.4 L429.7,166.0 L429.9,169.1 L430.0,172.2 L430.1,174.8 L430.3,177.3 L430.4,179.9 L430.5,182.4 L430.7,184.7 L430.8,186.8 L431.0,188.4 L431.1,189.9 L431.2,191.2 L431.4,192.5 L431.5,193.6 L431.6,194.7 L431.8,195.8 L431.9,196.8 L432.1,197.8 L432.2,198.7 L432.3,199.6 L432.5,200.4 L432.6,201.2 L432.8,202.0 L432.9,202.6 L433.0,203.2 L433.2,203.8 L433.3,204.3 L433.4,204.9 L433.6,205.4 L433.7,205.9 L433.9,206.3 L434.0,206.8 L434.1,207.1 L434.3,207.5 L434.4,207.8 L434.6,208.0 L434.7,208.2 L434.8,208.3 L435.0,208.4 L435.1,208.6 L435.2,208.7 L435.4,208.8 L435.5,208.9 L435.7,209.0 L435.8,209.0 L435.9,209.1 L436.1,209.1 L436.2,209.2 L436.4,209.2 L436.5,209.1 L436.6,209.1 L436.8,208.9 L436.9,208.8 L437.0,208.6 L437.2,208.4 L437.3,208.0 L437.5,207.3 L437.6,206.4 L437.7,205.4 L437.9,204.4 L438.0,203.4 L438.2,202.4 L438.3,201.2 L438.4,200.0 L438.6,198.7 L438.7,197.4 L438.8,196.1 L439.0,194.8 L439.1,193.4 L439.3,192.0 L439.4,190.6 L439.5,189.3 L439.7,188.2 L439.8,187.2 L439.9,186.2 L440.1,185.3 L440.2,184.4 L440.4,183.6 L440.5,182.8 L440.6,182.1 L440.8,181.4 L440.9,180.7 L441.1,180.0 L441.2,179.4 L441.3,178.8 L441.5,178.2 L441.6,177.6 L441.7,177.0 L441.9,176.5 L442.0,175.9 L442.2,175.4 L442.3,174.8 L442.4,174.2 L442.6,173.6 L442.7,173.0 L442.9,172.4 L443.0,171.8 L443.1,171.2 L443.3,170.6 L443.4,169.9 L443.5,169.3 L443.7,168.7 L443.8,168.1 L444.0,167.5 L444.1,167.0 L444.2,166.4 L444.4,165.9 L444.5,165.4 L444.7,164.9 L444.8,164.5 L444.9,164.1 L445.1,163.8 L445.2,163.5 L445.3,163.2 L445.5,163.0 L445.6,162.8 L445.8,162.7 L445.9,162.7 L446.0,163.0 L446.2,164.5 L446.3,167.0 L446.5,170.0 L446.6,172.9 L446.7,175.4 L446.9,177.8 L447.0,180.2 L447.1,182.6 L447.3,184.8 L447.4,186.8 L447.6,188.4 L447.7,189.8 L447.8,191.1 L448.0,192.3 L448.1,193.5 L448.2,194.5 L448.4,195.5 L448.5,196.5 L448.7,197.5 L448.8,198.4 L448.9,199.3 L449.1,200.1 L449.2,200.9 L449.4,201.6 L449.5,202.2 L449.6,202.8 L449.8,203.4 L449.9,203.9 L450.0,204.4 L450.2,204.9 L450.3,205.4 L450.5,205.9 L450.6,206.3 L450.7,206.7 L450.9,207.0 L451.0,207.3 L451.2,207.5 L451.3,207.7 L451.4,207.8 L451.6,207.9 L451.7,208.1 L451.8,208.2 L452.0,208.3 L452.1,208.4 L452.3,208.5 L452.4,208.5 L452.5,208.6 L452.7,208.6 L452.8,208.6 L453.0,208.6 L453.1,208.6 L453.2,208.5 L453.4,208.4 L453.5,208.3 L453.6,208.1 L453.8,207.9 L453.9,207.5 L454.1,206.9 L454.2,206.0 L454.3,205.0 L454.5,204.0 L454.6,203.1 L454.8,202.0 L454.9,200.9 L455.0,199.7 L455.2,198.4 L455.3,197.2 L455.4,195.9 L455.6,194.6 L455.7,193.3 L455.9,191.9 L456.0,190.5 L456.1,189.3 L456.3,188.1 L456.4,187.2 L456.5,186.3 L456.7,185.4 L456.8,184.6 L457.0,183.8 L457.1,183.1 L457.2,182.3 L457.4,181.7 L457.5,181.0 L457.7,180.4 L457.8,179.8 L457.9,179.2 L458.1,178.6 L458.2,178.1 L458.3,177.6 L458.5,177.0 L458.6,176.5 L458.8,176.0 L458.9,175.4 L459.0,174.9 L459.2,174.3 L459.3,173.8 L459.5,173.2 L459.6,172.6 L459.7,172.0 L459.9,171.4 L460.0,170.8 L460.1,170.2 L460.3,169.7 L460.4,169.1 L460.6,168.6 L460.7,168.0 L460.8,167.5 L461.0,167.0 L461.1,166.5 L461.3,166.1 L461.4,165.7 L461.5,165.3 L461.7,165.0 L461.8,164.7 L461.9,164.5 L462.1,164.3 L462.2,164.1 L462.4,164.0 L462.5,164.0 L462.6,164.2 L462.8,165.7 L462.9,168.1 L463.1,170.9 L463.2,173.7 L463.3,176.0 L463.5,178.3 L463.6,180.6 L463.7,182.8 L463.9,185.0 L464.0,186.8 L464.2,188.4 L464.3,189.7 L464.4,191.0 L464.6,192.2 L464.7,193.3 L464.8,194.4 L465.0,195.4 L465.1,196.3 L465.3,197.2 L465.4,198.1 L465.5,199.0 L465.7,199.8 L465.8,200.6 L466.0,201.2 L466.1,201.9 L466.2,202.4 L466.4,203.0 L466.5,203.5 L466.6,204.0 L466.8,204.5 L466.9,205.0 L467.1,205.4 L467.2,205.8 L467.3,206.2 L467.5,206.5 L467.6,206.8 L467.8,207.0 L467.9,207.2 L468.0,207.3 L468.2,207.4 L468.3,207.6 L468.4,207.7 L468.6,207.8 L468.7,207.9 L468.9,208.0 L469.0,208.0 L469.1,208.1 L469.3,208.1 L469.4,208.1 L469.6,208.1 L469.7,208.1 L469.8,208.0 L470.0,207.9 L470.1,207.8 L470.2,207.6 L470.4,207.4 L470.5,207.0 L470.7,206.4 L470.8,205.6 L470.9,204.6 L471.1,203.6 L471.2,202.7 L471.4,201.7 L471.5,200.6 L471.6,199.4 L471.8,198.1 L471.9,196.9 L472.0,195.7 L472.2,194.5 L472.3,193.1 L472.5,191.8 L472.6,190.5 L472.7,189.2 L472.9,188.1 L473.0,187.2 L473.1,186.3 L473.3,185.5 L473.4,184.7 L473.6,184.0 L473.7,183.2 L473.8,182.6 L474.0,181.9 L474.1,181.3 L474.3,180.7 L474.4,180.1 L474.5,179.6 L474.7,179.0 L474.8,178.5 L474.9,178.0 L475.1,177.5 L475.2,177.0 L475.4,176.5 L475.5,176.0 L475.6,175.5 L475.8,174.9 L475.9,174.4 L476.1,173.8 L476.2,173.3 L476.3,172.7 L476.5,172.1 L476.6,171.6 L476.7,171.0 L476.9,170.5 L477.0,169.9 L477.2,169.4" fill="none" stroke="#0070c0" stroke-width="2.6" stroke-linejoin="round" stroke-linecap="round"/>
<path d="M60.5,62.0 L60.9,62.0 L61.3,62.0 L61.7,62.0 L62.1,62.0 L62.5,62.0 L62.9,62.0 L63.3,61.9 L63.7,61.7 L64.1,61.5 L64.5,61.2 L64.9,60.6 L65.3,59.8 L65.7,58.7 L66.1,57.5 L66.5,56.1 L66.9,54.0 L67.3,51.9 L67.7,50.5 L68.1,49.6 L68.5,50.1 L68.9,51.9 L69.3,54.0 L69.7,56.9 L70.1,59.3 L70.5,61.0 L70.9,62.5 L71.3,63.8 L71.7,64.9 L72.1,65.9 L72.5,66.8 L72.9,67.8 L73.3,68.9 L73.7,70.2 L74.1,71.8 L74.5,73.6 L74.9,75.9 L75.3,78.6 L75.7,81.4 L76.1,84.4 L76.5,86.9 L76.9,88.9 L77.3,90.6 L77.7,92.2 L78.1,93.9 L78.5,95.4 L78.9,96.6 L79.3,97.1 L79.7,97.6 L80.1,97.9 L80.5,98.2 L80.9,98.5 L81.3,98.6 L81.7,98.7 L82.1,98.4 L82.5,97.1 L82.9,95.4 L83.3,93.7 L83.7,92.4 L84.1,91.4 L84.5,90.4 L84.9,89.5 L85.3,88.7 L85.7,88.1 L86.1,87.7 L86.5,87.5 L86.9,87.2 L87.3,87.0 L87.7,86.9 L88.1,86.8 L88.5,86.7 L88.9,86.8 L89.3,87.2 L89.7,87.9 L90.1,88.9 L90.5,90.1 L90.9,91.5 L91.3,93.6 L91.7,96.8 L92.1,100.3 L92.5,103.5 L92.9,106.7 L93.3,108.5 L93.7,109.7 L94.1,110.8 L94.5,111.6 L94.9,112.2 L95.3,112.6 L95.7,112.8 L96.1,112.9 L96.5,113.0 L96.9,113.1 L97.3,113.2 L97.7,113.2 L98.1,113.3 L98.5,113.3 L98.9,113.2 L99.3,112.8 L99.7,112.1 L100.1,111.1 L100.5,110.1 L100.9,109.1 L101.3,108.2 L101.7,107.3 L102.1,106.3 L102.5,105.3 L102.9,104.5 L103.3,103.8 L103.7,103.6 L104.1,103.4 L104.5,103.2 L104.9,103.1 L105.3,103.0 L105.7,102.9 L106.1,102.8 L106.5,102.8 L106.9,102.7 L107.3,102.7 L107.7,102.7 L108.1,103.5 L108.5,104.9 L108.9,106.5 L109.3,108.1 L109.7,110.1 L110.1,112.0 L110.5,113.6 L110.9,114.7 L111.3,115.5 L111.7,116.3 L112.1,117.0 L112.5,117.7 L112.9,118.6 L113.3,119.8 L113.7,121.6 L114.1,123.4 L114.5,124.2 L114.9,124.0 L115.3,123.4 L115.7,122.6 L116.1,121.7 L116.5,120.8 L116.9,120.0 L117.3,119.2 L117.7,118.4 L118.1,117.5 L118.5,116.6 L118.9,115.8 L119.3,115.1 L119.7,114.5 L120.1,114.1 L120.5,113.8 L120.9,113.5 L121.3,113.2 L121.7,113.0 L122.1,112.8 L122.5,112.7 L122.9,112.8 L123.3,113.3 L123.7,114.2 L124.1,115.3 L124.5,116.4 L124.9,117.5 L125.3,118.9 L125.7,120.4 L126.1,121.9 L126.5,123.4 L126.9,124.7 L127.3,125.9 L127.7,127.3 L128.1,128.6 L128.5,130.0 L128.9,131.1 L129.3,132.0 L129.7,132.6 L130.1,132.7 L130.5,132.6 L130.9,132.3 L131.3,131.8 L131.7,131.3 L132.1,130.7 L132.5,130.1 L132.9,129.5 L133.3,128.9 L133.7,128.4 L134.1,127.8 L134.5,127.3 L134.9,126.8 L135.3,126.2 L135.7,125.6 L136.1,125.0 L136.5,124.3 L136.9,123.5 L137.3,122.4 L137.7,121.5 L138.1,120.8 L138.5,120.5 L138.9,120.6 L139.3,120.9 L139.7,121.4 L140.1,122.0 L140.5,122.8 L140.9,123.6 L141.3,125.0 L141.7,127.2 L142.1,129.6 L142.5,131.8 L142.9,133.4 L143.3,135.0 L143.7,136.5 L144.1,137.9 L144.5,139.1 L144.9,139.9 L145.3,140.4 L145.7,140.5 L146.1,140.4 L146.5,140.2 L146.9,139.9 L147.3,139.5 L147.7,139.0 L148.1,138.6 L148.5,138.1 L148.9,137.6 L149.3,137.0 L149.7,136.3 L150.1,135.4 L150.5,134.5 L150.9,133.6 L151.3,132.7 L151.7,131.8 L152.1,130.8 L152.5,129.7 L152.9,128.9 L153.3,128.3 L153.7,128.2 L154.1,128.3 L154.5,128.5 L154.9,128.8 L155.3,129.2 L155.7,129.6 L156.1,130.1 L156.5,130.6 L156.9,131.2 L157.3,132.0 L157.7,133.0 L158.1,134.2 L158.5,135.4 L158.9,136.7 L159.3,137.9 L159.7,139.3 L160.1,140.7 L160.5,142.2 L160.9,144.0 L161.3,145.8 L161.7,146.8 L162.1,146.9 L162.5,146.7 L162.9,146.5 L163.3,146.2 L163.7,145.8 L164.1,145.4 L164.5,144.9 L164.9,144.4 L165.3,143.9 L165.7,143.3 L166.1,142.5 L166.5,141.6 L166.9,140.6 L167.3,139.7 L167.7,138.9 L168.1,138.1 L168.5,137.3 L168.9,136.5 L169.3,135.7 L169.7,135.0 L170.1,134.5 L170.5,134.1 L170.9,134.0 L171.3,134.2 L171.7,134.7 L172.1,135.3 L172.5,136.1 L172.9,136.9 L173.3,137.7 L173.7,138.4 L174.1,139.3 L174.5,140.2 L174.9,141.1 L175.3,142.2 L175.7,143.3 L176.1,144.9 L176.5,146.7 L176.9,148.6 L177.3,150.3 L177.7,151.5 L178.1,152.2 L178.5,152.1 L178.9,151.8 L179.3,151.4 L179.7,150.8 L180.1,150.2 L180.5,149.6 L180.9,149.1 L181.3,148.6 L181.7,148.1 L182.1,147.6 L182.5,147.1 L182.9,146.5 L183.3,146.0 L183.7,145.3 L184.1,144.5 L184.5,143.5 L184.9,142.5 L185.3,141.5 L185.7,140.7 L186.1,140.1 L186.5,140.0 L186.9,140.1 L187.3,140.4 L187.7,140.8 L188.1,141.3 L188.5,141.9 L188.9,142.4 L189.3,143.0 L189.7,143.7 L190.1,144.5 L190.5,145.3 L190.9,146.3 L191.3,147.3 L191.7,148.3 L192.1,149.3 L192.5,150.7 L192.9,152.0 L193.3,153.1 L193.7,153.7 L194.1,154.1 L194.5,154.5 L194.9,154.9 L195.3,155.2 L195.7,155.4 L196.1,155.5 L196.5,155.5 L196.9,155.3 L197.3,155.0 L197.7,154.6 L198.1,154.0 L198.5,153.5 L198.9,153.0 L199.3,152.4 L199.7,151.9 L200.1,151.3 L200.5,150.6 L200.9,149.9 L201.3,149.3 L201.7,148.6 L202.1,148.0 L202.5,147.5 L202.9,147.1 L203.3,146.6 L203.7,146.2 L204.1,145.7 L204.5,145.4 L204.9,145.1 L205.3,144.9 L205.7,145.0 L206.1,145.8 L206.5,147.0 L206.9,148.6 L207.3,150.0 L207.7,151.2 L208.1,152.3 L208.5,153.4 L208.9,154.5 L209.3,155.4 L209.7,156.1 L210.1,156.5 L210.5,156.8 L210.9,157.0 L211.3,157.2 L211.7,157.5 L212.1,157.6 L212.5,157.8 L212.9,157.9 L213.3,158.1 L213.7,158.1 L214.1,158.2 L214.5,158.2 L214.9,158.1 L215.3,157.7 L215.7,157.1 L216.1,156.5 L216.5,155.8 L216.9,155.1 L217.3,154.5 L217.7,153.9 L218.1,153.3 L218.5,152.6 L218.9,152.0 L219.3,151.4 L219.7,150.8 L220.1,150.4 L220.5,150.1 L220.9,150.0 L221.3,150.2 L221.7,150.8 L222.1,151.5 L222.5,152.3 L222.9,153.1 L223.3,153.9 L223.7,154.9 L224.1,155.9 L224.5,156.9 L224.9,157.8 L225.3,158.6 L225.7,159.5 L226.1,160.4 L226.5,161.3 L226.9,162.2 L227.3,162.9 L227.7,163.4 L228.1,163.6 L228.5,163.6 L228.9,163.5 L229.3,163.4 L229.7,163.2 L230.1,163.0 L230.5,162.7 L230.9,162.4 L231.3,162.2 L231.7,161.9 L232.1,161.5 L232.5,161.1 L232.9,160.5 L233.3,159.9 L233.7,159.1 L234.1,158.4 L234.5,157.6 L234.9,156.8 L235.3,156.1 L235.7,155.4 L236.1,154.8 L236.5,154.3 L236.9,153.9 L237.3,153.7 L237.7,153.6 L238.1,153.7 L238.5,154.0 L238.9,154.5 L239.3,155.0 L239.7,155.6 L240.1,156.3 L240.5,156.9 L240.9,157.6 L241.3,158.3 L241.7,159.2 L242.1,160.2 L242.5,161.2 L242.9,162.1 L243.3,163.0 L243.7,163.8 L244.1,164.6 L244.5,165.3 L244.9,166.0 L245.3,166.3 L245.7,166.4 L246.1,166.3 L246.5,166.1 L246.9,165.9 L247.3,165.7 L247.7,165.4 L248.1,165.0 L248.5,164.7 L248.9,164.4 L249.3,164.0 L249.7,163.6 L250.1,163.2 L250.5,162.8 L250.9,162.3 L251.3,161.8 L251.7,161.4 L252.1,161.0 L252.5,160.6 L252.9,160.1 L253.3,159.6 L253.7,159.2 L254.1,158.7 L254.5,158.3 L254.9,158.0 L255.3,157.8 L255.7,157.6 L256.1,157.6 L256.5,158.1 L256.9,159.1 L257.3,160.2 L257.7,161.5 L258.1,162.5 L258.5,163.3 L258.9,164.1 L259.3,164.9 L259.7,165.7 L260.1,166.5 L260.5,167.1 L260.9,167.7 L261.3,168.0 L261.7,168.2 L262.1,168.2 L262.5,168.1 L262.9,168.0 L263.3,167.8 L263.7,167.6 L264.1,167.4 L264.5,167.2 L264.9,166.9 L265.3,166.7 L265.7,166.4 L266.1,166.2 L266.5,165.9 L266.9,165.7 L267.3,165.4 L267.7,165.1 L268.1,164.8 L268.5,164.5 L268.9,164.1 L269.3,163.8 L269.7,163.5 L270.1,163.2 L270.5,163.0 L270.9,162.7 L271.3,162.6 L271.7,162.5 L272.1,162.4 L272.5,162.5 L272.9,163.0 L273.3,163.6 L273.7,164.5 L274.1,165.3 L274.5,166.1 L274.9,166.7 L275.3,167.1 L275.7,167.4 L276.1,167.7 L276.5,168.0 L276.9,168.2 L277.3,168.5 L277.7,168.7 L278.1,169.0 L278.5,169.2 L278.9,169.4 L279.3,169.5 L279.7,169.7 L280.1,169.8 L280.5,169.9 L280.9,170.0 L281.3,170.0 L281.7,170.0 L282.1,169.8 L282.5,169.5 L282.9,169.1 L283.3,168.7 L283.7,168.2 L284.1,167.7 L284.5,167.3 L284.9,166.9 L285.3,166.4 L285.7,165.9 L286.1,165.3 L286.5,164.8 L286.9,164.4 L287.3,164.0 L287.7,163.7 L288.1,163.6 L288.5,163.7 L288.9,164.1 L289.3,164.7 L289.7,165.5 L290.1,166.4 L290.5,167.3 L290.9,168.2 L291.3,169.3 L291.7,170.8 L292.1,172.1 L292.5,173.0 L292.9,173.1 L293.3,173.1 L293.7,173.1 L294.1,173.1 L294.5,173.0 L294.9,173.0 L295.3,173.0 L295.7,172.9 L296.1,172.9 L296.5,172.8 L296.9,172.8 L297.3,172.7 L297.7,172.6 L298.1,172.4 L298.5,172.2 L298.9,172.0 L299.3,171.7 L299.7,171.4 L300.1,171.0 L300.5,170.7 L300.9,170.4 L301.3,170.0 L301.7,169.6 L302.1,169.1 L302.5,168.6 L302.9,168.1 L303.3,167.6 L303.7,167.2 L304.1,167.0 L304.5,166.9 L304.9,167.0 L305.3,167.2 L305.7,167.4 L306.1,167.8 L306.5,168.2 L306.9,168.7 L307.3,169.1 L307.7,169.5 L308.1,169.9 L308.5,170.2 L308.9,170.5 L309.3,170.8 L309.7,171.1 L310.1,171.4 L310.5,171.8 L310.9,172.2 L311.3,172.8 L311.7,173.7 L312.1,174.5 L312.5,175.0 L312.9,175.1 L313.3,175.1 L313.7,175.0 L314.1,175.0 L314.5,174.9 L314.9,174.8 L315.3,174.7 L315.7,174.5 L316.1,174.4 L316.5,174.2 L316.9,174.0 L317.3,173.8 L317.7,173.6 L318.1,173.4 L318.5,173.0 L318.9,172.3 L319.3,171.4 L319.7,170.4 L320.1,169.6 L320.5,169.0 L320.9,168.9 L321.3,169.1 L321.7,169.5 L322.1,170.0 L322.5,170.7 L322.9,171.4 L323.3,172.0 L323.7,172.7 L324.1,173.4 L324.5,174.2 L324.9,175.1 L325.3,175.7 L325.7,176.2 L326.1,176.3 L326.5,176.4 L326.9,176.5 L327.3,176.6 L327.7,176.7 L328.1,176.8 L328.5,176.8 L328.9,176.9 L329.3,176.9 L329.7,176.9 L330.1,176.9 L330.5,176.9 L330.9,176.8 L331.3,176.7 L331.7,176.6 L332.1,176.5 L332.5,176.4 L332.9,176.3 L333.3,176.1 L333.7,175.9 L334.1,175.7 L334.5,175.3 L334.9,174.8 L335.3,174.2 L335.7,173.6 L336.1,173.0 L336.5,172.5 L336.9,172.1 L337.3,171.8 L337.7,171.8 L338.1,172.1 L338.5,172.5 L338.9,173.0 L339.3,173.7 L339.7,174.4 L340.1,175.0 L340.5,175.7 L340.9,176.4 L341.3,177.4 L341.7,178.2 L342.1,178.8 L342.5,179.1 L342.9,179.1 L343.3,179.1 L343.7,179.0 L344.1,179.0 L344.5,178.9 L344.9,178.8 L345.3,178.8 L345.7,178.7 L346.1,178.6 L346.5,178.5 L346.9,178.4 L347.3,178.3 L347.7,178.2 L348.1,178.1 L348.5,178.0 L348.9,177.9 L349.3,177.7 L349.7,177.6 L350.1,177.5 L350.5,177.3 L350.9,177.1 L351.3,176.9 L351.7,176.6 L352.1,176.2 L352.5,175.7 L352.9,175.1 L353.3,174.6 L353.7,174.1 L354.1,173.7 L354.5,173.4 L354.9,173.3 L355.3,173.5 L355.7,173.9 L356.1,174.5 L356.5,175.2 L356.9,176.0 L357.3,176.7 L357.7,177.2 L358.1,177.6 L358.5,177.8 L358.9,178.1 L359.3,178.3 L359.7,178.5 L360.1,178.7 L360.5,178.9 L360.9,179.0 L361.3,179.2 L361.7,179.3 L362.1,179.5 L362.5,179.6 L362.9,179.6 L363.3,179.7 L363.7,179.8 L364.1,179.8 L364.5,179.8 L364.9,179.8 L365.3,179.7 L365.7,179.5 L366.1,179.4 L366.5,179.2 L366.9,179.0 L367.3,178.8 L367.7,178.6 L368.1,178.3 L368.5,178.1 L368.9,177.8 L369.3,177.4 L369.7,177.0 L370.1,176.6 L370.5,176.3 L370.9,176.0 L371.3,175.7 L371.7,175.6 L372.1,175.5 L372.5,175.7 L372.9,176.4 L373.3,177.3 L373.7,178.2 L374.1,179.2 L374.5,180.0 L374.9,180.4 L375.3,180.6 L375.7,180.7 L376.1,180.8 L376.5,180.9 L376.9,181.0 L377.3,181.0 L377.7,181.0 L378.1,181.0 L378.5,180.9 L378.9,180.9 L379.3,180.8 L379.7,180.8 L380.1,180.7 L380.5,180.6 L380.9,180.5 L381.3,180.5 L381.7,180.3 L382.1,180.1 L382.5,179.9 L382.9,179.7 L383.3,179.5 L383.7,179.2 L384.1,179.0 L384.5,178.8 L384.9,178.6 L385.3,178.4 L385.7,178.4 L386.1,178.3 L386.5,178.2 L386.9,178.1 L387.3,178.1 L387.7,178.0 L388.1,178.0 L388.5,177.9 L388.9,177.9 L389.3,178.0 L389.7,178.4 L390.1,179.2 L390.5,180.2 L390.9,181.2 L391.3,182.0 L391.7,182.6 L392.1,182.7 L392.5,182.7 L392.9,182.7 L393.3,182.6 L393.7,182.6 L394.1,182.5 L394.5,182.5 L394.9,182.4 L395.3,182.4 L395.7,182.3 L396.1,182.2 L396.5,182.0 L396.9,181.8 L397.3,181.6 L397.7,181.5 L398.1,181.3 L398.5,181.3 L398.9,181.4 L399.3,181.6 L399.7,181.8 L400.1,182.0 L400.5,182.2 L400.9,182.2 L401.3,181.9 L401.7,181.4 L402.1,180.8 L402.5,180.0 L402.9,179.4 L403.3,178.9 L403.7,178.6 L404.1,178.7 L404.5,178.9 L404.9,179.3 L405.3,179.8 L405.7,180.3 L406.1,180.7 L406.5,181.2 L406.9,181.5 L407.3,181.7 L407.7,182.0 L408.1,182.2 L408.5,182.5 L408.9,182.7 L409.3,182.9 L409.7,183.0 L410.1,183.1 L410.5,183.2 L410.9,183.2 L411.3,183.3 L411.7,183.3 L412.1,183.3 L412.5,183.3 L412.9,183.4 L413.3,183.4 L413.7,183.4 L414.1,183.4 L414.5,183.4 L414.9,183.4 L415.3,183.3 L415.7,183.3 L416.1,183.2 L416.5,183.1 L416.9,183.0 L417.3,182.9 L417.7,182.7 L418.1,182.6 L418.5,182.4 L418.9,182.2 L419.3,181.9 L419.7,181.5 L420.1,181.1 L420.5,180.6 L420.9,180.2 L421.3,179.9 L421.7,179.7 L422.1,179.6 L422.5,180.1 L422.9,180.9 L423.3,182.0 L423.7,183.0 L424.1,183.7 L424.5,184.0 L424.9,184.1 L425.3,184.2 L425.7,184.3 L426.1,184.4 L426.5,184.5 L426.9,184.5 L427.3,184.6 L427.7,184.6 L428.1,184.6 L428.5,184.6 L428.9,184.6 L429.3,184.6 L429.7,184.6 L430.1,184.6 L430.5,184.6 L430.9,184.6 L431.3,184.6 L431.7,184.6 L432.1,184.6 L432.5,184.6 L432.9,184.6 L433.3,184.5 L433.7,184.2 L434.1,183.9 L434.5,183.4 L434.9,183.0 L435.3,182.5 L435.7,182.2 L436.1,181.8 L436.5,181.6 L436.9,181.6 L437.3,181.7 L437.7,181.9 L438.1,182.2 L438.5,182.6 L438.9,183.0 L439.3,183.4 L439.7,183.7 L440.1,184.1 L440.5,184.4 L440.9,184.9 L441.3,185.3 L441.7,185.7 L442.1,186.1 L442.5,186.4 L442.9,186.6 L443.3,186.6 L443.7,186.5 L444.1,186.4 L444.5,186.3 L444.9,186.1 L445.3,185.8 L445.7,185.6 L446.1,185.4 L446.5,185.1 L446.9,184.9 L447.3,184.8 L447.7,184.6 L448.1,184.5 L448.5,184.5 L448.9,184.4 L449.3,184.4 L449.7,184.3 L450.1,184.3 L450.5,184.2 L450.9,184.2 L451.3,184.1 L451.7,184.1 L452.1,184.0 L452.5,183.9 L452.9,183.8 L453.3,183.6 L453.7,183.5 L454.1,183.4 L454.5,183.3 L454.9,183.1 L455.3,183.1 L455.7,183.0 L456.1,183.0 L456.5,183.3 L456.9,183.8 L457.3,184.4 L457.7,185.1 L458.1,185.7 L458.5,186.1 L458.9,186.2 L459.3,186.2 L459.7,186.2 L460.1,186.2 L460.5,186.2 L460.9,186.2 L461.3,186.2 L461.7,186.2 L462.1,186.2 L462.5,186.2 L462.9,186.2 L463.3,186.2 L463.7,186.2 L464.1,186.2 L464.5,186.2 L464.9,186.1 L465.3,186.1 L465.7,186.1 L466.1,186.0 L466.5,186.0 L466.9,186.0 L467.3,185.9 L467.7,185.8 L468.1,185.8 L468.5,185.5 L468.9,185.1 L469.3,184.5 L469.7,183.9 L470.1,183.4 L470.5,183.1 L470.9,183.0 L471.3,183.2 L471.7,183.6 L472.1,184.1 L472.5,184.7 L472.9,185.3 L473.3,185.8 L473.7,186.2 L474.1,186.4 L474.5,186.6 L474.9,186.8 L475.3,186.9" fill="none" stroke="#000" stroke-width="2.6" stroke-linecap="round" stroke-dasharray="0.01 5.5" stroke-dashoffset="1.8"/>
<path d="M60.5,161.8 L60.6,166.1 L60.8,170.4 L60.9,174.6 L61.1,178.8 L61.2,183.0 L61.3,187.1 L61.5,191.1 L61.6,195.1 L61.7,198.9 L61.9,202.7 L62.0,206.4 L62.2,209.9 L62.3,213.3 L62.4,216.5 L62.6,219.6 L62.7,222.6 L62.9,225.4 L63.0,228.0 L63.1,230.4 L63.3,232.6 L63.4,234.7 L63.5,236.5 L63.7,238.2 L63.8,239.6 L64.0,240.8 L64.1,241.8 L64.2,242.6 L64.4,243.2 L64.5,243.5 L64.7,243.6 L64.8,243.5 L64.9,243.2 L65.1,242.6 L65.2,241.8 L65.3,240.8 L65.5,239.6 L65.6,238.2 L65.8,236.5 L65.9,234.7 L66.0,232.6 L66.2,230.4 L66.3,228.0 L66.4,225.4 L66.6,222.6 L66.7,219.6 L66.9,216.5 L67.0,213.3 L67.1,209.9 L67.3,206.4 L67.4,202.7 L67.6,198.9 L67.7,195.1 L67.8,191.1 L68.0,187.1 L68.1,183.0 L68.2,178.8 L68.4,174.6 L68.5,170.4 L68.7,166.1 L68.8,161.8 L68.9,157.4 L69.1,153.1 L69.2,148.8 L69.4,144.5 L69.5,140.2 L69.6,136.1 L69.8,131.9 L69.9,127.9 L70.0,124.0 L70.2,120.1 L70.3,116.4 L70.5,112.8 L70.6,109.4 L70.7,106.1 L70.9,102.9 L71.0,99.9 L71.2,97.1 L71.3,94.4 L71.4,91.9 L71.6,89.7 L71.7,87.6 L71.8,85.7 L72.0,84.0 L72.1,82.6 L72.3,81.3 L72.4,80.3 L72.5,79.5 L72.7,79.0 L72.8,78.6 L73.0,78.5 L73.1,78.6 L73.2,79.0 L73.4,79.5 L73.5,80.3 L73.6,81.3 L73.8,82.6 L73.9,84.0 L74.1,85.7 L74.2,87.6 L74.3,89.7 L74.5,91.9 L74.6,94.4 L74.7,97.1 L74.9,99.9 L75.0,102.9 L75.2,106.1 L75.3,109.4 L75.4,112.8 L75.6,116.4 L75.7,120.1 L75.9,124.0 L76.0,127.9 L76.1,131.9 L76.3,136.1 L76.4,140.2 L76.5,144.5 L76.7,148.8 L76.8,153.1 L77.0,157.4 L77.1,161.8 L77.2,166.1 L77.4,170.4 L77.5,174.6 L77.7,178.8 L77.8,183.0 L77.9,187.1 L78.1,191.1 L78.2,195.1 L78.3,198.9 L78.5,202.7 L78.6,206.4 L78.8,209.9 L78.9,213.3 L79.0,216.5 L79.2,219.6 L79.3,222.6 L79.5,225.4 L79.6,228.0 L79.7,230.4 L79.9,232.6 L80.0,234.7 L80.1,236.5 L80.3,238.2 L80.4,239.6 L80.6,240.8 L80.7,241.8 L80.8,242.6 L81.0,243.2 L81.1,243.5 L81.2,243.6 L81.4,243.5 L81.5,243.2 L81.7,242.6 L81.8,241.8 L81.9,240.8 L82.1,239.6 L82.2,238.2 L82.4,236.5 L82.5,234.7 L82.6,232.6 L82.8,230.4 L82.9,228.0 L83.0,225.4 L83.2,222.6 L83.3,219.6 L83.5,216.5 L83.6,213.3 L83.7,209.9 L83.9,206.4 L84.0,202.7 L84.2,198.9 L84.3,195.1 L84.4,191.1 L84.6,187.1 L84.7,183.0 L84.8,178.8 L85.0,174.6 L85.1,170.4 L85.3,166.1 L85.4,161.8 L85.5,157.4 L85.7,153.1 L85.8,148.8 L86.0,144.5 L86.1,140.2 L86.2,136.1 L86.4,131.9 L86.5,127.9 L86.6,124.0 L86.8,120.2 L86.9,116.4 L87.1,112.8 L87.2,109.4 L87.3,106.1 L87.5,102.9 L87.6,99.9 L87.8,97.1 L87.9,94.4 L88.0,91.9 L88.2,89.7 L88.3,87.6 L88.4,85.7 L88.6,84.0 L88.7,82.6 L88.9,81.3 L89.0,80.3 L89.1,79.5 L89.3,79.0 L89.4,78.6 L89.6,78.5 L89.7,78.6 L89.8,79.0 L90.0,79.5 L90.1,80.3 L90.2,81.3 L90.4,82.6 L90.5,84.0 L90.7,85.7 L90.8,87.6 L90.9,89.7 L91.1,91.9 L91.2,94.4 L91.3,97.1 L91.5,99.9 L91.6,102.9 L91.8,106.1 L91.9,109.4 L92.0,112.8 L92.2,116.4 L92.3,120.1 L92.5,124.0 L92.6,127.9 L92.7,131.9 L92.9,136.1 L93.0,140.2 L93.1,144.5 L93.3,148.8 L93.4,153.1 L93.6,157.4 L93.7,161.8 L93.8,166.1 L94.0,170.4 L94.1,174.6 L94.3,178.8 L94.4,183.0 L94.5,187.1 L94.7,191.1 L94.8,195.1 L94.9,198.9 L95.1,202.7 L95.2,206.4 L95.4,209.9 L95.5,213.3 L95.6,216.5 L95.8,219.6 L95.9,222.6 L96.1,225.4 L96.2,228.0 L96.3,230.4 L96.5,232.6 L96.6,234.7 L96.7,236.5 L96.9,238.2 L97.0,239.6 L97.2,240.8 L97.3,241.8 L97.4,242.6 L97.6,243.2 L97.7,243.5 L97.8,243.6 L98.0,243.5 L98.1,243.2 L98.3,242.6 L98.4,241.8 L98.5,240.8 L98.7,239.6 L98.8,238.2 L99.0,236.5 L99.1,234.7 L99.2,232.6 L99.4,230.4 L99.5,228.0 L99.6,225.4 L99.8,222.6 L99.9,219.6 L100.1,216.5 L100.2,213.3 L100.3,209.9 L100.5,206.4 L100.6,202.7 L100.8,198.9 L100.9,195.1 L101.0,191.1 L101.2,187.1 L101.3,183.0 L101.4,178.8 L101.6,174.6 L101.7,170.4 L101.9,166.1 L102.0,161.8 L102.1,157.4 L102.3,153.1 L102.4,148.8 L102.6,144.5 L102.7,140.2 L102.8,136.1 L103.0,131.9 L103.1,127.9 L103.2,124.0 L103.4,120.2 L103.5,116.4 L103.7,112.8 L103.8,109.4 L103.9,106.1 L104.1,102.9 L104.2,99.9 L104.4,97.1 L104.5,94.4 L104.6,91.9 L104.8,89.7 L104.9,87.6 L105.0,85.7 L105.2,84.0 L105.3,82.6 L105.5,81.3 L105.6,80.3 L105.7,79.5 L105.9,79.0 L106.0,78.6 L106.2,78.5 L106.3,78.6 L106.4,79.0 L106.6,79.5 L106.7,80.3 L106.8,81.3 L107.0,82.6 L107.1,84.0 L107.3,85.7 L107.4,87.6 L107.5,89.7 L107.7,91.9 L107.8,94.4 L107.9,97.1 L108.1,99.9 L108.2,102.9 L108.4,106.1 L108.5,109.4 L108.6,112.8 L108.8,116.4 L108.9,120.1 L109.1,124.0 L109.2,127.9 L109.3,131.9 L109.5,136.1 L109.6,140.2 L109.7,144.5 L109.9,148.8 L110.0,153.1 L110.2,157.4 L110.3,161.8 L110.4,166.1 L110.6,170.4 L110.7,174.6 L110.9,178.8 L111.0,183.0 L111.1,187.1 L111.3,191.1 L111.4,195.1 L111.5,198.9 L111.7,202.7 L111.8,206.4 L112.0,209.9 L112.1,213.3 L112.2,216.5 L112.4,219.6 L112.5,222.6 L112.7,225.4 L112.8,228.0 L112.9,230.4 L113.1,232.6 L113.2,234.7 L113.3,236.5 L113.5,238.2 L113.6,239.6 L113.8,240.8 L113.9,241.8 L114.0,242.6 L114.2,243.2 L114.3,243.5 L114.5,243.6 L114.6,243.5 L114.7,243.2 L114.9,242.6 L115.0,241.8 L115.1,240.8 L115.3,239.6 L115.4,238.2 L115.6,236.5 L115.7,234.7 L115.8,232.6 L116.0,230.4 L116.1,228.0 L116.2,225.4 L116.4,222.6 L116.5,219.6 L116.7,216.5 L116.8,213.3 L116.9,209.9 L117.1,206.4 L117.2,202.7 L117.4,198.9 L117.5,195.1 L117.6,191.1 L117.8,187.1 L117.9,183.0 L118.0,178.8 L118.2,174.6 L118.3,170.4 L118.5,166.1 L118.6,161.8 L118.7,157.4 L118.9,153.1 L119.0,148.8 L119.2,144.5 L119.3,140.2 L119.4,136.1 L119.6,131.9 L119.7,127.9 L119.8,124.0 L120.0,120.2 L120.1,116.4 L120.3,112.8 L120.4,109.4 L120.5,106.1 L120.7,102.9 L120.8,99.9 L121.0,97.1 L121.1,94.4 L121.2,91.9 L121.4,89.7 L121.5,87.6 L121.6,85.7 L121.8,84.0 L121.9,82.6 L122.1,81.3 L122.2,80.3 L122.3,79.5 L122.5,79.0 L122.6,78.6 L122.8,78.5 L122.9,78.6 L123.0,79.0 L123.2,79.5 L123.3,80.3 L123.4,81.3 L123.6,82.6 L123.7,84.0 L123.9,85.7 L124.0,87.6 L124.1,89.7 L124.3,91.9 L124.4,94.4 L124.5,97.1 L124.7,99.9 L124.8,102.9 L125.0,106.1 L125.1,109.4 L125.2,112.8 L125.4,116.4 L125.5,120.1 L125.7,124.0 L125.8,127.9 L125.9,131.9 L126.1,136.1 L126.2,140.2 L126.3,144.5 L126.5,148.8 L126.6,153.1 L126.8,157.4 L126.9,161.8 L127.0,166.1 L127.2,170.4 L127.3,174.6 L127.5,178.8 L127.6,183.0 L127.7,187.1 L127.9,191.1 L128.0,195.1 L128.1,198.9 L128.3,202.7 L128.4,206.4 L128.6,209.9 L128.7,213.3 L128.8,216.5 L129.0,219.6 L129.1,222.6 L129.3,225.4 L129.4,228.0 L129.5,230.4 L129.7,232.6 L129.8,234.7 L129.9,236.5 L130.1,238.2 L130.2,239.6 L130.4,240.8 L130.5,241.8 L130.6,242.6 L130.8,243.2 L130.9,243.5 L131.1,243.6 L131.2,243.5 L131.3,243.2 L131.5,242.6 L131.6,241.8 L131.7,240.8 L131.9,239.6 L132.0,238.2 L132.2,236.5 L132.3,234.7 L132.4,232.6 L132.6,230.4 L132.7,228.0 L132.8,225.4 L133.0,222.6 L133.1,219.6 L133.3,216.5 L133.4,213.3 L133.5,209.9 L133.7,206.4 L133.8,202.7 L134.0,198.9 L134.1,195.1 L134.2,191.1 L134.4,187.1 L134.5,183.0 L134.6,178.8 L134.8,174.6 L134.9,170.4 L135.1,166.1 L135.2,161.8 L135.3,157.4 L135.5,153.1 L135.6,148.8 L135.8,144.5 L135.9,140.2 L136.0,136.1 L136.2,131.9 L136.3,127.9 L136.4,124.0 L136.6,120.2 L136.7,116.4 L136.9,112.8 L137.0,109.4 L137.1,106.1 L137.3,102.9 L137.4,99.9 L137.6,97.1 L137.7,94.4 L137.8,91.9 L138.0,89.7 L138.1,87.6 L138.2,85.7 L138.4,84.0 L138.5,82.6 L138.7,81.3 L138.8,80.3 L138.9,79.5 L139.1,79.0 L139.2,78.6 L139.4,78.5 L139.5,78.6 L139.6,79.0 L139.8,79.5 L139.9,80.3 L140.0,81.3 L140.2,82.6 L140.3,84.0 L140.5,85.7 L140.6,87.6 L140.7,89.7 L140.9,91.9 L141.0,94.4 L141.1,97.1 L141.3,99.9 L141.4,102.9 L141.6,106.1 L141.7,109.4 L141.8,112.8 L142.0,116.4 L142.1,120.1 L142.3,124.0 L142.4,127.9 L142.5,131.9 L142.7,136.1 L142.8,140.2 L142.9,144.5 L143.1,148.8 L143.2,153.1 L143.4,157.4 L143.5,161.8 L143.6,166.1 L143.8,170.4 L143.9,174.6 L144.1,178.8 L144.2,183.0 L144.3,187.1 L144.5,191.1 L144.6,195.1 L144.7,198.9 L144.9,202.7 L145.0,206.4 L145.2,209.9 L145.3,213.3 L145.4,216.5 L145.6,219.6 L145.7,222.6 L145.9,225.4 L146.0,228.0 L146.1,230.4 L146.3,232.6 L146.4,234.7 L146.5,236.5 L146.7,238.2 L146.8,239.6 L147.0,240.8 L147.1,241.8 L147.2,242.6 L147.4,243.2 L147.5,243.5 L147.7,243.6 L147.8,243.5 L147.9,243.2 L148.1,242.6 L148.2,241.8 L148.3,240.8 L148.5,239.6 L148.6,238.2 L148.8,236.5 L148.9,234.7 L149.0,232.6 L149.2,230.4 L149.3,228.0 L149.4,225.4 L149.6,222.6 L149.7,219.6 L149.9,216.5 L150.0,213.3 L150.1,209.9 L150.3,206.4 L150.4,202.7 L150.6,198.9 L150.7,195.1 L150.8,191.1 L151.0,187.1 L151.1,183.0 L151.2,178.8 L151.4,174.6 L151.5,170.4 L151.7,166.1 L151.8,161.8 L151.9,157.4 L152.1,153.1 L152.2,148.8 L152.4,144.5 L152.5,140.2 L152.6,136.1 L152.8,131.9 L152.9,127.9 L153.0,124.0 L153.2,120.2 L153.3,116.4 L153.5,112.8 L153.6,109.4 L153.7,106.1 L153.9,102.9 L154.0,99.9 L154.2,97.1 L154.3,94.4 L154.4,91.9 L154.6,89.7 L154.7,87.6 L154.8,85.7 L155.0,84.0 L155.1,82.6 L155.3,81.3 L155.4,80.3 L155.5,79.5 L155.7,79.0 L155.8,78.6 L155.9,78.5 L156.1,78.6 L156.2,79.0 L156.4,79.5 L156.5,80.3 L156.6,81.3 L156.8,82.6 L156.9,84.0 L157.1,85.7 L157.2,87.6 L157.3,89.7 L157.5,91.9 L157.6,94.4 L157.7,97.1 L157.9,99.9 L158.0,102.9 L158.2,106.1 L158.3,109.4 L158.4,112.8 L158.6,116.4 L158.7,120.2 L158.9,124.0 L159.0,127.9 L159.1,131.9 L159.3,136.1 L159.4,140.2 L159.5,144.5 L159.7,148.8 L159.8,153.1 L160.0,157.4 L160.1,161.8 L160.2,166.1 L160.4,170.4 L160.5,174.6 L160.7,178.8 L160.8,183.0 L160.9,187.1 L161.1,191.1 L161.2,195.1 L161.3,198.9 L161.5,202.7 L161.6,206.4 L161.8,209.9 L161.9,213.3 L162.0,216.5 L162.2,219.6 L162.3,222.6 L162.5,225.4 L162.6,228.0 L162.7,230.4 L162.9,232.6 L163.0,234.7 L163.1,236.5 L163.3,238.2 L163.4,239.6 L163.6,240.8 L163.7,241.8 L163.8,242.6 L164.0,243.2 L164.1,243.5 L164.2,243.6 L164.4,243.5 L164.5,243.2 L164.7,242.6 L164.8,241.8 L164.9,240.8 L165.1,239.6 L165.2,238.2 L165.4,236.5 L165.5,234.7 L165.6,232.6 L165.8,230.4 L165.9,228.0 L166.0,225.4 L166.2,222.6 L166.3,219.6 L166.5,216.5 L166.6,213.3 L166.7,209.9 L166.9,206.4 L167.0,202.7 L167.2,198.9 L167.3,195.1 L167.4,191.1 L167.6,187.1 L167.7,183.0 L167.8,178.8 L168.0,174.6 L168.1,170.4 L168.3,166.1 L168.4,161.8 L168.5,157.4 L168.7,153.1 L168.8,148.8 L169.0,144.5 L169.1,140.2 L169.2,136.1 L169.4,131.9 L169.5,127.9 L169.6,124.0 L169.8,120.2 L169.9,116.4 L170.1,112.8 L170.2,109.4 L170.3,106.1 L170.5,102.9 L170.6,99.9 L170.8,97.1 L170.9,94.4 L171.0,91.9 L171.2,89.7 L171.3,87.6 L171.4,85.7 L171.6,84.0 L171.7,82.6 L171.9,81.3 L172.0,80.3 L172.1,79.5 L172.3,79.0 L172.4,78.6 L172.6,78.5 L172.7,78.6 L172.8,79.0 L173.0,79.5 L173.1,80.3 L173.2,81.3 L173.4,82.6 L173.5,84.0 L173.7,85.7 L173.8,87.6 L173.9,89.7 L174.1,91.9 L174.2,94.4 L174.3,97.1 L174.5,99.9 L174.6,102.9 L174.8,106.1 L174.9,109.4 L175.0,112.8 L175.2,116.4 L175.3,120.2 L175.5,124.0 L175.6,127.9 L175.7,131.9 L175.9,136.1 L176.0,140.2 L176.1,144.5 L176.3,148.8 L176.4,153.1 L176.6,157.4 L176.7,161.8 L176.8,166.1 L177.0,170.4 L177.1,174.6 L177.3,178.8 L177.4,183.0 L177.5,187.1 L177.7,191.1 L177.8,195.1 L177.9,198.9 L178.1,202.7 L178.2,206.4 L178.4,209.9 L178.5,213.3 L178.6,216.5 L178.8,219.6 L178.9,222.6 L179.1,225.4 L179.2,228.0 L179.3,230.4 L179.5,232.6 L179.6,234.7 L179.7,236.5 L179.9,238.2 L180.0,239.6 L180.2,240.8 L180.3,241.8 L180.4,242.6 L180.6,243.2 L180.7,243.5 L180.9,243.6 L181.0,243.5 L181.1,243.2 L181.3,242.6 L181.4,241.8 L181.5,240.8 L181.7,239.6 L181.8,238.2 L182.0,236.5 L182.1,234.7 L182.2,232.6 L182.4,230.4 L182.5,228.0 L182.6,225.4 L182.8,222.6 L182.9,219.6 L183.1,216.5 L183.2,213.3 L183.3,209.9 L183.5,206.4 L183.6,202.7 L183.8,198.9 L183.9,195.1 L184.0,191.1 L184.2,187.1 L184.3,183.0 L184.4,178.8 L184.6,174.6 L184.7,170.4 L184.9,166.1 L185.0,161.8 L185.1,157.4 L185.3,153.1 L185.4,148.8 L185.6,144.5 L185.7,140.2 L185.8,136.1 L186.0,131.9 L186.1,127.9 L186.2,124.0 L186.4,120.2 L186.5,116.4 L186.7,112.8 L186.8,109.4 L186.9,106.1 L187.1,102.9 L187.2,99.9 L187.4,97.1 L187.5,94.4 L187.6,91.9 L187.8,89.7 L187.9,87.6 L188.0,85.7 L188.2,84.0 L188.3,82.6 L188.5,81.3 L188.6,80.3 L188.7,79.5 L188.9,79.0 L189.0,78.6 L189.2,78.5 L189.3,78.6 L189.4,79.0 L189.6,79.5 L189.7,80.3 L189.8,81.3 L190.0,82.6 L190.1,84.0 L190.3,85.7 L190.4,87.6 L190.5,89.7 L190.7,91.9 L190.8,94.4 L190.9,97.1 L191.1,99.9 L191.2,102.9 L191.4,106.1 L191.5,109.4 L191.6,112.8 L191.8,116.4 L191.9,120.2 L192.1,124.0 L192.2,127.9 L192.3,131.9 L192.5,136.1 L192.6,140.2 L192.7,144.5 L192.9,148.8 L193.0,153.1 L193.2,157.4 L193.3,161.8 L193.4,166.1 L193.6,170.4 L193.7,174.6 L193.9,178.8 L194.0,183.0 L194.1,187.1 L194.3,191.1 L194.4,195.1 L194.5,198.9 L194.7,202.7 L194.8,206.4 L195.0,209.9 L195.1,213.3 L195.2,216.5 L195.4,219.6 L195.5,222.6 L195.7,225.4 L195.8,228.0 L195.9,230.4 L196.1,232.6 L196.2,234.7 L196.3,236.5 L196.5,238.2 L196.6,239.6 L196.8,240.8 L196.9,241.8 L197.0,242.6 L197.2,243.2 L197.3,243.5 L197.5,243.6 L197.6,243.5 L197.7,243.2 L197.9,242.6 L198.0,241.8 L198.1,240.8 L198.3,239.6 L198.4,238.2 L198.6,236.5 L198.7,234.7 L198.8,232.6 L199.0,230.4 L199.1,228.0 L199.2,225.4 L199.4,222.6 L199.5,219.6 L199.7,216.5 L199.8,213.3 L199.9,209.9 L200.1,206.4 L200.2,202.7 L200.4,198.9 L200.5,195.1 L200.6,191.1 L200.8,187.1 L200.9,183.0 L201.0,178.8 L201.2,174.6 L201.3,170.4 L201.5,166.1 L201.6,161.8 L201.7,157.4 L201.9,153.1 L202.0,148.8 L202.2,144.5 L202.3,140.2 L202.4,136.1 L202.6,131.9 L202.7,127.9 L202.8,124.0 L203.0,120.1 L203.1,116.4 L203.3,112.8 L203.4,109.4 L203.5,106.1 L203.7,102.9 L203.8,99.9 L204.0,97.1 L204.1,94.4 L204.2,91.9 L204.4,89.7 L204.5,87.6 L204.6,85.7 L204.8,84.0 L204.9,82.6 L205.1,81.3 L205.2,80.3 L205.3,79.5 L205.5,79.0 L205.6,78.6 L205.8,78.5 L205.9,78.6 L206.0,79.0 L206.2,79.5 L206.3,80.3 L206.4,81.3 L206.6,82.6 L206.7,84.0 L206.9,85.7 L207.0,87.6 L207.1,89.7 L207.3,91.9 L207.4,94.4 L207.5,97.1 L207.7,99.9 L207.8,102.9 L208.0,106.1 L208.1,109.4 L208.2,112.8 L208.4,116.4 L208.5,120.1 L208.7,124.0 L208.8,127.9 L208.9,131.9 L209.1,136.1 L209.2,140.2 L209.3,144.5 L209.5,148.8 L209.6,153.1 L209.8,157.4 L209.9,161.8 L210.0,166.1 L210.2,170.4 L210.3,174.6 L210.5,178.8 L210.6,183.0 L210.7,187.1 L210.9,191.1 L211.0,195.1 L211.1,198.9 L211.3,202.7 L211.4,206.4 L211.6,209.9 L211.7,213.3 L211.8,216.5 L212.0,219.6 L212.1,222.6 L212.3,225.4 L212.4,228.0 L212.5,230.4 L212.7,232.6 L212.8,234.7 L212.9,236.5 L213.1,238.2 L213.2,239.6 L213.4,240.8 L213.5,241.8 L213.6,242.6 L213.8,243.2 L213.9,243.5 L214.1,243.6 L214.2,243.5 L214.3,243.2 L214.5,242.6 L214.6,241.8 L214.7,240.8 L214.9,239.6 L215.0,238.2 L215.2,236.5 L215.3,234.7 L215.4,232.6 L215.6,230.4 L215.7,228.0 L215.8,225.4 L216.0,222.6 L216.1,219.6 L216.3,216.5 L216.4,213.3 L216.5,209.9 L216.7,206.4 L216.8,202.7 L217.0,198.9 L217.1,195.1 L217.2,191.1 L217.4,187.1 L217.5,183.0 L217.6,178.8 L217.8,174.6 L217.9,170.4 L218.1,166.1 L218.2,161.8 L218.3,157.4 L218.5,153.1 L218.6,148.8 L218.8,144.5 L218.9,140.2 L219.0,136.1 L219.2,131.9 L219.3,127.9 L219.4,124.0 L219.6,120.1 L219.7,116.4 L219.9,112.8 L220.0,109.4 L220.1,106.1 L220.3,102.9 L220.4,99.9 L220.6,97.1 L220.7,94.4 L220.8,91.9 L221.0,89.7 L221.1,87.6 L221.2,85.7 L221.4,84.0 L221.5,82.6 L221.7,81.3 L221.8,80.3 L221.9,79.5 L222.1,79.0 L222.2,78.6 L222.4,78.5 L222.5,78.6 L222.6,79.0 L222.8,79.5 L222.9,80.3 L223.0,81.3 L223.2,82.6 L223.3,84.0 L223.5,85.7 L223.6,87.6 L223.7,89.7 L223.9,91.9 L224.0,94.4 L224.1,97.1 L224.3,99.9 L224.4,102.9 L224.6,106.1 L224.7,109.4 L224.8,112.8 L225.0,116.4 L225.1,120.1 L225.3,124.0 L225.4,127.9 L225.5,131.9 L225.7,136.1 L225.8,140.2 L225.9,144.5 L226.1,148.8 L226.2,153.1 L226.4,157.4 L226.5,161.8 L226.6,166.1 L226.8,170.4 L226.9,174.6 L227.1,178.8 L227.2,183.0 L227.3,187.1 L227.5,191.1 L227.6,195.1 L227.7,198.9 L227.9,202.7 L228.0,206.4 L228.2,209.9 L228.3,213.3 L228.4,216.5 L228.6,219.6 L228.7,222.6 L228.9,225.4 L229.0,228.0 L229.1,230.4 L229.3,232.6 L229.4,234.7 L229.5,236.5 L229.7,238.2 L229.8,239.6 L230.0,240.8 L230.1,241.8 L230.2,242.6 L230.4,243.2 L230.5,243.5 L230.7,243.6 L230.8,243.5 L230.9,243.2 L231.1,242.6 L231.2,241.8 L231.3,240.8 L231.5,239.6 L231.6,238.2 L231.8,236.5 L231.9,234.7 L232.0,232.6 L232.2,230.4 L232.3,228.0 L232.4,225.4 L232.6,222.6 L232.7,219.6 L232.9,216.5 L233.0,213.3 L233.1,209.9 L233.3,206.4 L233.4,202.7 L233.6,198.9 L233.7,195.1 L233.8,191.1 L234.0,187.1 L234.1,183.0 L234.2,178.8 L234.4,174.6 L234.5,170.4 L234.7,166.1 L234.8,161.8 L234.9,157.4 L235.1,153.1 L235.2,148.8 L235.4,144.5 L235.5,140.2 L235.6,136.1 L235.8,131.9 L235.9,127.9 L236.0,124.0 L236.2,120.1 L236.3,116.4 L236.5,112.8 L236.6,109.4 L236.7,106.1 L236.9,102.9 L237.0,99.9 L237.2,97.1 L237.3,94.4 L237.4,91.9 L237.6,89.7 L237.7,87.6 L237.8,85.7 L238.0,84.0 L238.1,82.6 L238.3,81.3 L238.4,80.3 L238.5,79.5 L238.7,79.0 L238.8,78.6 L239.0,78.5 L239.1,78.6 L239.2,79.0 L239.4,79.5 L239.5,80.3 L239.6,81.3 L239.8,82.6 L239.9,84.0 L240.1,85.7 L240.2,87.6 L240.3,89.7 L240.5,91.9 L240.6,94.4 L240.7,97.1 L240.9,99.9 L241.0,102.9 L241.2,106.1 L241.3,109.4 L241.4,112.8 L241.6,116.4 L241.7,120.1 L241.9,124.0 L242.0,127.9 L242.1,131.9 L242.3,136.1 L242.4,140.2 L242.5,144.5 L242.7,148.8 L242.8,153.1 L243.0,157.4 L243.1,161.8 L243.2,166.1 L243.4,170.4 L243.5,174.6 L243.7,178.8 L243.8,183.0 L243.9,187.1 L244.1,191.1 L244.2,195.1 L244.3,198.9 L244.5,202.7 L244.6,206.4 L244.8,209.9 L244.9,213.3 L245.0,216.5 L245.2,219.6 L245.3,222.6 L245.5,225.4 L245.6,228.0 L245.7,230.4 L245.9,232.6 L246.0,234.7 L246.1,236.5 L246.3,238.2 L246.4,239.6 L246.6,240.8 L246.7,241.8 L246.8,242.6 L247.0,243.2 L247.1,243.5 L247.3,243.6 L247.4,243.5 L247.5,243.2 L247.7,242.6 L247.8,241.8 L247.9,240.8 L248.1,239.6 L248.2,238.2 L248.4,236.5 L248.5,234.7 L248.6,232.6 L248.8,230.4 L248.9,228.0 L249.0,225.4 L249.2,222.6 L249.3,219.6 L249.5,216.5 L249.6,213.3 L249.7,209.9 L249.9,206.4 L250.0,202.7 L250.2,198.9 L250.3,195.1 L250.4,191.1 L250.6,187.1 L250.7,183.0 L250.8,178.8 L251.0,174.6 L251.1,170.4 L251.3,166.1 L251.4,161.8 L251.5,157.4 L251.7,153.1 L251.8,148.8 L252.0,144.5 L252.1,140.2 L252.2,136.1 L252.4,131.9 L252.5,127.9 L252.6,124.0 L252.8,120.2 L252.9,116.4 L253.1,112.8 L253.2,109.4 L253.3,106.1 L253.5,102.9 L253.6,99.9 L253.8,97.1 L253.9,94.4 L254.0,91.9 L254.2,89.7 L254.3,87.6 L254.4,85.7 L254.6,84.0 L254.7,82.6 L254.9,81.3 L255.0,80.3 L255.1,79.5 L255.3,79.0 L255.4,78.6 L255.6,78.5 L255.7,78.6 L255.8,79.0 L256.0,79.5 L256.1,80.3 L256.2,81.3 L256.4,82.6 L256.5,84.0 L256.7,85.7 L256.8,87.6 L256.9,89.7 L257.1,91.9 L257.2,94.4 L257.3,97.1 L257.5,99.9 L257.6,102.9 L257.8,106.1 L257.9,109.4 L258.0,112.8 L258.2,116.4 L258.3,120.1 L258.5,124.0 L258.6,127.9 L258.7,131.9 L258.9,136.1 L259.0,140.2 L259.1,144.5 L259.3,148.8 L259.4,153.1 L259.6,157.4 L259.7,161.8 L259.8,166.1 L260.0,170.4 L260.1,174.6 L260.3,178.8 L260.4,183.0 L260.5,187.1 L260.7,191.1 L260.8,195.1 L260.9,198.9 L261.1,202.7 L261.2,206.4 L261.4,209.9 L261.5,213.3 L261.6,216.5 L261.8,219.6 L261.9,222.6 L262.1,225.4 L262.2,228.0 L262.3,230.4 L262.5,232.6 L262.6,234.7 L262.7,236.5 L262.9,238.2 L263.0,239.6 L263.2,240.8 L263.3,241.8 L263.4,242.6 L263.6,243.2 L263.7,243.5 L263.9,243.6 L264.0,243.5 L264.1,243.2 L264.3,242.6 L264.4,241.8 L264.5,240.8 L264.7,239.6 L264.8,238.2 L265.0,236.5 L265.1,234.7 L265.2,232.6 L265.4,230.4 L265.5,228.0 L265.6,225.4 L265.8,222.6 L265.9,219.6 L266.1,216.5 L266.2,213.3 L266.3,209.9 L266.5,206.4 L266.6,202.7 L266.8,198.9 L266.9,195.1 L267.0,191.1 L267.2,187.1 L267.3,183.0 L267.4,178.8 L267.6,174.6 L267.7,170.4 L267.9,166.1 L268.0,161.8 L268.1,157.4 L268.3,153.1 L268.4,148.8 L268.6,144.5 L268.7,140.2 L268.8,136.1 L269.0,131.9 L269.1,127.9 L269.2,124.0 L269.4,120.1 L269.5,116.4 L269.7,112.8 L269.8,109.4 L269.9,106.1 L270.1,102.9 L270.2,99.9 L270.4,97.1 L270.5,94.4 L270.6,91.9 L270.8,89.7 L270.9,87.6 L271.0,85.7 L271.2,84.0 L271.3,82.6 L271.5,81.3 L271.6,80.3 L271.7,79.5 L271.9,79.0 L272.0,78.6 L272.1,78.5 L272.3,78.6 L272.4,79.0 L272.6,79.5 L272.7,80.3 L272.8,81.3 L273.0,82.6 L273.1,84.0 L273.3,85.7 L273.4,87.6 L273.5,89.7 L273.7,91.9 L273.8,94.4 L273.9,97.1 L274.1,99.9 L274.2,102.9 L274.4,106.1 L274.5,109.4 L274.6,112.8 L274.8,116.4 L274.9,120.1 L275.1,124.0 L275.2,127.9 L275.3,131.9 L275.5,136.1 L275.6,140.2 L275.7,144.5 L275.9,148.8 L276.0,153.1 L276.2,157.4 L276.3,161.8 L276.4,166.1 L276.6,170.4 L276.7,174.6 L276.9,178.8 L277.0,183.0 L277.1,187.1 L277.3,191.1 L277.4,195.1 L277.5,198.9 L277.7,202.7 L277.8,206.4 L278.0,209.9 L278.1,213.3 L278.2,216.5 L278.4,219.6 L278.5,222.6 L278.7,225.4 L278.8,228.0 L278.9,230.4 L279.1,232.6 L279.2,234.7 L279.3,236.5 L279.5,238.2 L279.6,239.6 L279.8,240.8 L279.9,241.8 L280.0,242.6 L280.2,243.2 L280.3,243.5 L280.5,243.6 L280.6,243.5 L280.7,243.2 L280.9,242.6 L281.0,241.8 L281.1,240.8 L281.3,239.6 L281.4,238.2 L281.6,236.5 L281.7,234.7 L281.8,232.6 L282.0,230.4 L282.1,228.0 L282.2,225.4 L282.4,222.6 L282.5,219.6 L282.7,216.5 L282.8,213.3 L282.9,209.9 L283.1,206.4 L283.2,202.7 L283.4,198.9 L283.5,195.1 L283.6,191.1 L283.8,187.1 L283.9,183.0 L284.0,178.8 L284.2,174.6 L284.3,170.4 L284.5,166.1 L284.6,161.8 L284.7,157.4 L284.9,153.1 L285.0,148.8 L285.2,144.5 L285.3,140.2 L285.4,136.1 L285.6,131.9 L285.7,127.9 L285.8,124.0 L286.0,120.2 L286.1,116.4 L286.3,112.8 L286.4,109.4 L286.5,106.1 L286.7,102.9 L286.8,99.9 L287.0,97.1 L287.1,94.4 L287.2,91.9 L287.4,89.7 L287.5,87.6 L287.6,85.7 L287.8,84.0 L287.9,82.6 L288.1,81.3 L288.2,80.3 L288.3,79.5 L288.5,79.0 L288.6,78.6 L288.8,78.5 L288.9,78.6 L289.0,79.0 L289.2,79.5 L289.3,80.3 L289.4,81.3 L289.6,82.6 L289.7,84.0 L289.9,85.7 L290.0,87.6 L290.1,89.7 L290.3,91.9 L290.4,94.4 L290.5,97.1 L290.7,99.9 L290.8,102.9 L291.0,106.1 L291.1,109.4 L291.2,112.8 L291.4,116.4 L291.5,120.1 L291.7,124.0 L291.8,127.9 L291.9,131.9 L292.1,136.1 L292.2,140.2 L292.3,144.5 L292.5,148.8 L292.6,153.1 L292.8,157.4 L292.9,161.8 L293.0,166.1 L293.2,170.4 L293.3,174.6 L293.5,178.8 L293.6,183.0 L293.7,187.1 L293.9,191.1 L294.0,195.1 L294.1,198.9 L294.3,202.7 L294.4,206.4 L294.6,209.9 L294.7,213.3 L294.8,216.5 L295.0,219.6 L295.1,222.6 L295.3,225.4 L295.4,228.0 L295.5,230.4 L295.7,232.6 L295.8,234.7 L295.9,236.5 L296.1,238.2 L296.2,239.6 L296.4,240.8 L296.5,241.8 L296.6,242.6 L296.8,243.2 L296.9,243.5 L297.1,243.6 L297.2,243.5 L297.3,243.2 L297.5,242.6 L297.6,241.8 L297.7,240.8 L297.9,239.6 L298.0,238.2 L298.2,236.5 L298.3,234.7 L298.4,232.6 L298.6,230.4 L298.7,228.0 L298.8,225.4 L299.0,222.6 L299.1,219.6 L299.3,216.5 L299.4,213.3 L299.5,209.9 L299.7,206.4 L299.8,202.7 L300.0,198.9 L300.1,195.1 L300.2,191.1 L300.4,187.1 L300.5,183.0 L300.6,178.8 L300.8,174.6 L300.9,170.4 L301.1,166.1 L301.2,161.8 L301.3,157.4 L301.5,153.1 L301.6,148.8 L301.8,144.5 L301.9,140.2 L302.0,136.1 L302.2,131.9 L302.3,127.9 L302.4,124.0 L302.6,120.1 L302.7,116.4 L302.9,112.8 L303.0,109.4 L303.1,106.1 L303.3,102.9 L303.4,99.9 L303.6,97.1 L303.7,94.4 L303.8,91.9 L304.0,89.7 L304.1,87.6 L304.2,85.7 L304.4,84.0 L304.5,82.6 L304.7,81.3 L304.8,80.3 L304.9,79.5 L305.1,79.0 L305.2,78.6 L305.4,78.5 L305.5,78.6 L305.6,79.0 L305.8,79.5 L305.9,80.3 L306.0,81.3 L306.2,82.6 L306.3,84.0 L306.5,85.7 L306.6,87.6 L306.7,89.7 L306.9,91.9 L307.0,94.4 L307.1,97.1 L307.3,99.9 L307.4,102.9 L307.6,106.1 L307.7,109.4 L307.8,112.8 L308.0,116.4 L308.1,120.1 L308.3,124.0 L308.4,127.9 L308.5,131.9 L308.7,136.1 L308.8,140.2 L308.9,144.5 L309.1,148.8 L309.2,153.1 L309.4,157.4 L309.5,161.8 L309.6,166.1 L309.8,170.4 L309.9,174.6 L310.1,178.8 L310.2,183.0 L310.3,187.1 L310.5,191.1 L310.6,195.1 L310.7,198.9 L310.9,202.7 L311.0,206.4 L311.2,209.9 L311.3,213.3 L311.4,216.5 L311.6,219.6 L311.7,222.6 L311.9,225.4 L312.0,228.0 L312.1,230.4 L312.3,232.6 L312.4,234.7 L312.5,236.5 L312.7,238.2 L312.8,239.6 L313.0,240.8 L313.1,241.8 L313.2,242.6 L313.4,243.2 L313.5,243.5 L313.7,243.6 L313.8,243.5 L313.9,243.2 L314.1,242.6 L314.2,241.8 L314.3,240.8 L314.5,239.6 L314.6,238.2 L314.8,236.5 L314.9,234.7 L315.0,232.6 L315.2,230.4 L315.3,228.0 L315.4,225.4 L315.6,222.6 L315.7,219.6 L315.9,216.5 L316.0,213.3 L316.1,209.9 L316.3,206.4 L316.4,202.7 L316.6,198.9 L316.7,195.1 L316.8,191.1 L317.0,187.1 L317.1,183.0 L317.2,178.8 L317.4,174.6 L317.5,170.4 L317.7,166.1 L317.8,161.8 L317.9,157.4 L318.1,153.1 L318.2,148.8 L318.4,144.5 L318.5,140.2 L318.6,136.1 L318.8,131.9 L318.9,127.9 L319.0,124.0 L319.2,120.2 L319.3,116.4 L319.5,112.8 L319.6,109.4 L319.7,106.1 L319.9,102.9 L320.0,99.9 L320.2,97.1 L320.3,94.4 L320.4,91.9 L320.6,89.7 L320.7,87.6 L320.8,85.7 L321.0,84.0 L321.1,82.6 L321.3,81.3 L321.4,80.3 L321.5,79.5 L321.7,79.0 L321.8,78.6 L322.0,78.5 L322.1,78.6 L322.2,79.0 L322.4,79.5 L322.5,80.3 L322.6,81.3 L322.8,82.6 L322.9,84.0 L323.1,85.7 L323.2,87.6 L323.3,89.7 L323.5,91.9 L323.6,94.4 L323.7,97.1 L323.9,99.9 L324.0,102.9 L324.2,106.1 L324.3,109.4 L324.4,112.8 L324.6,116.4 L324.7,120.1 L324.9,124.0 L325.0,127.9 L325.1,131.9 L325.3,136.1 L325.4,140.2 L325.5,144.5 L325.7,148.8 L325.8,153.1 L326.0,157.4 L326.1,161.8 L326.2,166.1 L326.4,170.4 L326.5,174.6 L326.7,178.8 L326.8,183.0 L326.9,187.1 L327.1,191.1 L327.2,195.1 L327.3,198.9 L327.5,202.7 L327.6,206.4 L327.8,209.9 L327.9,213.3 L328.0,216.5 L328.2,219.6 L328.3,222.6 L328.5,225.4 L328.6,228.0 L328.7,230.4 L328.9,232.6 L329.0,234.7 L329.1,236.5 L329.3,238.2 L329.4,239.6 L329.6,240.8 L329.7,241.8 L329.8,242.6 L330.0,243.2 L330.1,243.5 L330.2,243.6 L330.4,243.5 L330.5,243.2 L330.7,242.6 L330.8,241.8 L330.9,240.8 L331.1,239.6 L331.2,238.2 L331.4,236.5 L331.5,234.7 L331.6,232.6 L331.8,230.4 L331.9,228.0 L332.0,225.4 L332.2,222.6 L332.3,219.6 L332.5,216.5 L332.6,213.3 L332.7,209.9 L332.9,206.4 L333.0,202.7 L333.2,198.9 L333.3,195.1 L333.4,191.1 L333.6,187.1 L333.7,183.0 L333.8,178.8 L334.0,174.6 L334.1,170.4 L334.3,166.1 L334.4,161.8 L334.5,157.4 L334.7,153.1 L334.8,148.8 L335.0,144.5 L335.1,140.2 L335.2,136.1 L335.4,131.9 L335.5,127.9 L335.6,124.0 L335.8,120.2 L335.9,116.4 L336.1,112.8 L336.2,109.4 L336.3,106.1 L336.5,102.9 L336.6,99.9 L336.8,97.1 L336.9,94.4 L337.0,91.9 L337.2,89.7 L337.3,87.6 L337.4,85.7 L337.6,84.0 L337.7,82.6 L337.9,81.3 L338.0,80.3 L338.1,79.5 L338.3,79.0 L338.4,78.6 L338.6,78.5 L338.7,78.6 L338.8,79.0 L339.0,79.5 L339.1,80.3 L339.2,81.3 L339.4,82.6 L339.5,84.0 L339.7,85.7 L339.8,87.6 L339.9,89.7 L340.1,91.9 L340.2,94.4 L340.3,97.1 L340.5,99.9 L340.6,102.9 L340.8,106.1 L340.9,109.4 L341.0,112.8 L341.2,116.4 L341.3,120.1 L341.5,124.0 L341.6,127.9 L341.7,131.9 L341.9,136.1 L342.0,140.2 L342.1,144.5 L342.3,148.8 L342.4,153.1 L342.6,157.4 L342.7,161.8 L342.8,166.1 L343.0,170.4 L343.1,174.6 L343.3,178.8 L343.4,183.0 L343.5,187.1 L343.7,191.1 L343.8,195.1 L343.9,198.9 L344.1,202.7 L344.2,206.4 L344.4,209.9 L344.5,213.3 L344.6,216.5 L344.8,219.6 L344.9,222.6 L345.1,225.4 L345.2,228.0 L345.3,230.4 L345.5,232.6 L345.6,234.7 L345.7,236.5 L345.9,238.2 L346.0,239.6 L346.2,240.8 L346.3,241.8 L346.4,242.6 L346.6,243.2 L346.7,243.5 L346.9,243.6 L347.0,243.5 L347.1,243.2 L347.3,242.6 L347.4,241.8 L347.5,240.8 L347.7,239.6 L347.8,238.2 L348.0,236.5 L348.1,234.7 L348.2,232.6 L348.4,230.4 L348.5,228.0 L348.6,225.4 L348.8,222.6 L348.9,219.6 L349.1,216.5 L349.2,213.3 L349.3,209.9 L349.5,206.4 L349.6,202.7 L349.8,198.9 L349.9,195.1 L350.0,191.1 L350.2,187.1 L350.3,183.0 L350.4,178.8 L350.6,174.6 L350.7,170.4 L350.9,166.1 L351.0,161.8 L351.1,157.4 L351.3,153.1 L351.4,148.8 L351.6,144.5 L351.7,140.2 L351.8,136.1 L352.0,131.9 L352.1,127.9 L352.2,124.0 L352.4,120.2 L352.5,116.4 L352.7,112.8 L352.8,109.4 L352.9,106.1 L353.1,102.9 L353.2,99.9 L353.4,97.1 L353.5,94.4 L353.6,91.9 L353.8,89.7 L353.9,87.6 L354.0,85.7 L354.2,84.0 L354.3,82.6 L354.5,81.3 L354.6,80.3 L354.7,79.5 L354.9,79.0 L355.0,78.6 L355.2,78.5 L355.3,78.6 L355.4,79.0 L355.6,79.5 L355.7,80.3 L355.8,81.3 L356.0,82.6 L356.1,84.0 L356.3,85.7 L356.4,87.6 L356.5,89.7 L356.7,91.9 L356.8,94.4 L356.9,97.1 L357.1,99.9 L357.2,102.9 L357.4,106.1 L357.5,109.4 L357.6,112.8 L357.8,116.4 L357.9,120.2 L358.1,124.0 L358.2,127.9 L358.3,131.9 L358.5,136.1 L358.6,140.2 L358.7,144.5 L358.9,148.8 L359.0,153.1 L359.2,157.4 L359.3,161.8 L359.4,166.1 L359.6,170.4 L359.7,174.6 L359.9,178.8 L360.0,183.0 L360.1,187.1 L360.3,191.1 L360.4,195.1 L360.5,198.9 L360.7,202.7 L360.8,206.4 L361.0,209.9 L361.1,213.3 L361.2,216.5 L361.4,219.6 L361.5,222.6 L361.7,225.4 L361.8,228.0 L361.9,230.4 L362.1,232.6 L362.2,234.7 L362.3,236.5 L362.5,238.2 L362.6,239.6 L362.8,240.8 L362.9,241.8 L363.0,242.6 L363.2,243.2 L363.3,243.5 L363.5,243.6 L363.6,243.5 L363.7,243.2 L363.9,242.6 L364.0,241.8 L364.1,240.8 L364.3,239.6 L364.4,238.2 L364.6,236.5 L364.7,234.7 L364.8,232.6 L365.0,230.4 L365.1,228.0 L365.2,225.4 L365.4,222.6 L365.5,219.6 L365.7,216.5 L365.8,213.3 L365.9,209.9 L366.1,206.4 L366.2,202.7 L366.4,198.9 L366.5,195.1 L366.6,191.1 L366.8,187.1 L366.9,183.0 L367.0,178.8 L367.2,174.6 L367.3,170.4 L367.5,166.1 L367.6,161.8 L367.7,157.4 L367.9,153.1 L368.0,148.8 L368.2,144.5 L368.3,140.2 L368.4,136.1 L368.6,131.9 L368.7,127.9 L368.8,124.0 L369.0,120.2 L369.1,116.4 L369.3,112.8 L369.4,109.4 L369.5,106.1 L369.7,102.9 L369.8,99.9 L370.0,97.1 L370.1,94.4 L370.2,91.9 L370.4,89.7 L370.5,87.6 L370.6,85.7 L370.8,84.0 L370.9,82.6 L371.1,81.3 L371.2,80.3 L371.3,79.5 L371.5,79.0 L371.6,78.6 L371.8,78.5 L371.9,78.6 L372.0,79.0 L372.2,79.5 L372.3,80.3 L372.4,81.3 L372.6,82.6 L372.7,84.0 L372.9,85.7 L373.0,87.6 L373.1,89.7 L373.3,91.9 L373.4,94.4 L373.5,97.1 L373.7,99.9 L373.8,102.9 L374.0,106.1 L374.1,109.4 L374.2,112.8 L374.4,116.4 L374.5,120.1 L374.7,124.0 L374.8,127.9 L374.9,131.9 L375.1,136.1 L375.2,140.2 L375.3,144.5 L375.5,148.8 L375.6,153.1 L375.8,157.4 L375.9,161.8 L376.0,166.1 L376.2,170.4 L376.3,174.6 L376.5,178.8 L376.6,183.0 L376.7,187.1 L376.9,191.1 L377.0,195.1 L377.1,198.9 L377.3,202.7 L377.4,206.4 L377.6,209.9 L377.7,213.3 L377.8,216.5 L378.0,219.6 L378.1,222.6 L378.3,225.4 L378.4,228.0 L378.5,230.4 L378.7,232.6 L378.8,234.7 L378.9,236.5 L379.1,238.2 L379.2,239.6 L379.4,240.8 L379.5,241.8 L379.6,242.6 L379.8,243.2 L379.9,243.5 L380.1,243.6 L380.2,243.5 L380.3,243.2 L380.5,242.6 L380.6,241.8 L380.7,240.8 L380.9,239.6 L381.0,238.2 L381.2,236.5 L381.3,234.7 L381.4,232.6 L381.6,230.4 L381.7,228.0 L381.8,225.4 L382.0,222.6 L382.1,219.6 L382.3,216.5 L382.4,213.3 L382.5,209.9 L382.7,206.4 L382.8,202.7 L383.0,198.9 L383.1,195.1 L383.2,191.1 L383.4,187.1 L383.5,183.0 L383.6,178.8 L383.8,174.6 L383.9,170.4 L384.1,166.1 L384.2,161.8 L384.3,157.4 L384.5,153.1 L384.6,148.8 L384.8,144.5 L384.9,140.2 L385.0,136.1 L385.2,131.9 L385.3,127.9 L385.4,124.0 L385.6,120.2 L385.7,116.4 L385.9,112.8 L386.0,109.4 L386.1,106.1 L386.3,102.9 L386.4,99.9 L386.6,97.1 L386.7,94.4 L386.8,91.9 L387.0,89.7 L387.1,87.6 L387.2,85.7 L387.4,84.0 L387.5,82.6 L387.7,81.3 L387.8,80.3 L387.9,79.5 L388.1,79.0 L388.2,78.6 L388.4,78.5 L388.5,78.6 L388.6,79.0 L388.8,79.5 L388.9,80.3 L389.0,81.3 L389.2,82.6 L389.3,84.0 L389.5,85.7 L389.6,87.6 L389.7,89.7 L389.9,91.9 L390.0,94.4 L390.1,97.1 L390.3,99.9 L390.4,102.9 L390.6,106.1 L390.7,109.4 L390.8,112.8 L391.0,116.4 L391.1,120.2 L391.3,124.0 L391.4,127.9 L391.5,131.9 L391.7,136.1 L391.8,140.2 L391.9,144.5 L392.1,148.8 L392.2,153.1 L392.4,157.4 L392.5,161.8 L392.6,166.1 L392.8,170.4 L392.9,174.6 L393.1,178.8 L393.2,183.0 L393.3,187.1 L393.5,191.1 L393.6,195.1 L393.7,198.9 L393.9,202.7 L394.0,206.4 L394.2,209.9 L394.3,213.3 L394.4,216.5 L394.6,219.6 L394.7,222.6 L394.9,225.4 L395.0,228.0 L395.1,230.4 L395.3,232.6 L395.4,234.7 L395.5,236.5 L395.7,238.2 L395.8,239.6 L396.0,240.8 L396.1,241.8 L396.2,242.6 L396.4,243.2 L396.5,243.5 L396.7,243.6 L396.8,243.5 L396.9,243.2 L397.1,242.6 L397.2,241.8 L397.3,240.8 L397.5,239.6 L397.6,238.2 L397.8,236.5 L397.9,234.7 L398.0,232.6 L398.2,230.4 L398.3,228.0 L398.4,225.4 L398.6,222.6 L398.7,219.6 L398.9,216.5 L399.0,213.3 L399.1,209.9 L399.3,206.4 L399.4,202.7 L399.6,198.9 L399.7,195.1 L399.8,191.1 L400.0,187.1 L400.1,183.0 L400.2,178.8 L400.4,174.6 L400.5,170.4 L400.7,166.1 L400.8,161.8 L400.9,157.4 L401.1,153.1 L401.2,148.8 L401.4,144.5 L401.5,140.2 L401.6,136.1 L401.8,131.9 L401.9,127.9 L402.0,124.0 L402.2,120.1 L402.3,116.4 L402.5,112.8 L402.6,109.4 L402.7,106.1 L402.9,102.9 L403.0,99.9 L403.2,97.1 L403.3,94.4 L403.4,91.9 L403.6,89.7 L403.7,87.6 L403.8,85.7 L404.0,84.0 L404.1,82.6 L404.3,81.3 L404.4,80.3 L404.5,79.5 L404.7,79.0 L404.8,78.6 L405.0,78.5 L405.1,78.6 L405.2,79.0 L405.4,79.5 L405.5,80.3 L405.6,81.3 L405.8,82.6 L405.9,84.0 L406.1,85.7 L406.2,87.6 L406.3,89.7 L406.5,91.9 L406.6,94.4 L406.7,97.1 L406.9,99.9 L407.0,102.9 L407.2,106.1 L407.3,109.4 L407.4,112.8 L407.6,116.4 L407.7,120.2 L407.9,124.0 L408.0,127.9 L408.1,131.9 L408.3,136.1 L408.4,140.2 L408.5,144.5 L408.7,148.8 L408.8,153.1 L409.0,157.4 L409.1,161.8 L409.2,166.1 L409.4,170.4 L409.5,174.6 L409.7,178.8 L409.8,183.0 L409.9,187.1 L410.1,191.1 L410.2,195.1 L410.3,198.9 L410.5,202.7 L410.6,206.4 L410.8,209.9 L410.9,213.3 L411.0,216.5 L411.2,219.6 L411.3,222.6 L411.5,225.4 L411.6,228.0 L411.7,230.4 L411.9,232.6 L412.0,234.7 L412.1,236.5 L412.3,238.2 L412.4,239.6 L412.6,240.8 L412.7,241.8 L412.8,242.6 L413.0,243.2 L413.1,243.5 L413.3,243.6 L413.4,243.5 L413.5,243.2 L413.7,242.6 L413.8,241.8 L413.9,240.8 L414.1,239.6 L414.2,238.2 L414.4,236.5 L414.5,234.7 L414.6,232.6 L414.8,230.4 L414.9,228.0 L415.0,225.4 L415.2,222.6 L415.3,219.6 L415.5,216.5 L415.6,213.3 L415.7,209.9 L415.9,206.4 L416.0,202.7 L416.2,198.9 L416.3,195.1 L416.4,191.1 L416.6,187.1 L416.7,183.0 L416.8,178.8 L417.0,174.6 L417.1,170.4 L417.3,166.1 L417.4,161.8 L417.5,157.4 L417.7,153.1 L417.8,148.8 L418.0,144.5 L418.1,140.2 L418.2,136.1 L418.4,131.9 L418.5,127.9 L418.6,124.0 L418.8,120.2 L418.9,116.4 L419.1,112.8 L419.2,109.4 L419.3,106.1 L419.5,102.9 L419.6,99.9 L419.8,97.1 L419.9,94.4 L420.0,91.9 L420.2,89.7 L420.3,87.6 L420.4,85.7 L420.6,84.0 L420.7,82.6 L420.9,81.3 L421.0,80.3 L421.1,79.5 L421.3,79.0 L421.4,78.6 L421.6,78.5 L421.7,78.6 L421.8,79.0 L422.0,79.5 L422.1,80.3 L422.2,81.3 L422.4,82.6 L422.5,84.0 L422.7,85.7 L422.8,87.6 L422.9,89.7 L423.1,91.9 L423.2,94.4 L423.3,97.1 L423.5,99.9 L423.6,102.9 L423.8,106.1 L423.9,109.4 L424.0,112.8 L424.2,116.4 L424.3,120.1 L424.5,124.0 L424.6,127.9 L424.7,131.9 L424.9,136.1 L425.0,140.2 L425.1,144.5 L425.3,148.8 L425.4,153.1 L425.6,157.4 L425.7,161.8 L425.8,166.1 L426.0,170.4 L426.1,174.6 L426.3,178.8 L426.4,183.0 L426.5,187.1 L426.7,191.1 L426.8,195.1 L426.9,198.9 L427.1,202.7 L427.2,206.4 L427.4,209.9 L427.5,213.3 L427.6,216.5 L427.8,219.6 L427.9,222.6 L428.1,225.4 L428.2,228.0 L428.3,230.4 L428.5,232.6 L428.6,234.7 L428.7,236.5 L428.9,238.2 L429.0,239.6 L429.2,240.8 L429.3,241.8 L429.4,242.6 L429.6,243.2 L429.7,243.5 L429.9,243.6 L430.0,243.5 L430.1,243.2 L430.3,242.6 L430.4,241.8 L430.5,240.8 L430.7,239.6 L430.8,238.2 L431.0,236.5 L431.1,234.7 L431.2,232.6 L431.4,230.4 L431.5,228.0 L431.6,225.4 L431.8,222.6 L431.9,219.6 L432.1,216.5 L432.2,213.3 L432.3,209.9 L432.5,206.4 L432.6,202.7 L432.8,198.9 L432.9,195.1 L433.0,191.1 L433.2,187.1 L433.3,183.0 L433.4,178.8 L433.6,174.6 L433.7,170.4 L433.9,166.1 L434.0,161.8 L434.1,157.4 L434.3,153.1 L434.4,148.8 L434.6,144.5 L434.7,140.2 L434.8,136.1 L435.0,131.9 L435.1,127.9 L435.2,124.0 L435.4,120.2 L435.5,116.4 L435.7,112.8 L435.8,109.4 L435.9,106.1 L436.1,102.9 L436.2,99.9 L436.4,97.1 L436.5,94.4 L436.6,91.9 L436.8,89.7 L436.9,87.6 L437.0,85.7 L437.2,84.0 L437.3,82.6 L437.5,81.3 L437.6,80.3 L437.7,79.5 L437.9,79.0 L438.0,78.6 L438.2,78.5 L438.3,78.6 L438.4,79.0 L438.6,79.5 L438.7,80.3 L438.8,81.3 L439.0,82.6 L439.1,84.0 L439.3,85.7 L439.4,87.6 L439.5,89.7 L439.7,91.9 L439.8,94.4 L439.9,97.1 L440.1,99.9 L440.2,102.9 L440.4,106.1 L440.5,109.4 L440.6,112.8 L440.8,116.4 L440.9,120.1 L441.1,124.0 L441.2,127.9 L441.3,131.9 L441.5,136.1 L441.6,140.2 L441.7,144.5 L441.9,148.8 L442.0,153.1 L442.2,157.4 L442.3,161.8 L442.4,166.1 L442.6,170.4 L442.7,174.6 L442.9,178.8 L443.0,183.0 L443.1,187.1 L443.3,191.1 L443.4,195.1 L443.5,198.9 L443.7,202.7 L443.8,206.4 L444.0,209.9 L444.1,213.3 L444.2,216.5 L444.4,219.6 L444.5,222.6 L444.7,225.4 L444.8,228.0 L444.9,230.4 L445.1,232.6 L445.2,234.7 L445.3,236.5 L445.5,238.2 L445.6,239.6 L445.8,240.8 L445.9,241.8 L446.0,242.6 L446.2,243.2 L446.3,243.5 L446.5,243.6 L446.6,243.5 L446.7,243.2 L446.9,242.6 L447.0,241.8 L447.1,240.8 L447.3,239.6 L447.4,238.2 L447.6,236.5 L447.7,234.7 L447.8,232.6 L448.0,230.4 L448.1,228.0 L448.2,225.4 L448.4,222.6 L448.5,219.6 L448.7,216.5 L448.8,213.3 L448.9,209.9 L449.1,206.4 L449.2,202.7 L449.4,198.9 L449.5,195.1 L449.6,191.1 L449.8,187.1 L449.9,183.0 L450.0,178.8 L450.2,174.6 L450.3,170.4 L450.5,166.1 L450.6,161.8 L450.7,157.4 L450.9,153.1 L451.0,148.8 L451.2,144.5 L451.3,140.2 L451.4,136.1 L451.6,131.9 L451.7,127.9 L451.8,124.0 L452.0,120.2 L452.1,116.4 L452.3,112.8 L452.4,109.4 L452.5,106.1 L452.7,102.9 L452.8,99.9 L453.0,97.1 L453.1,94.4 L453.2,91.9 L453.4,89.7 L453.5,87.6 L453.6,85.7 L453.8,84.0 L453.9,82.6 L454.1,81.3 L454.2,80.3 L454.3,79.5 L454.5,79.0 L454.6,78.6 L454.8,78.5 L454.9,78.6 L455.0,79.0 L455.2,79.5 L455.3,80.3 L455.4,81.3 L455.6,82.6 L455.7,84.0 L455.9,85.7 L456.0,87.6 L456.1,89.7 L456.3,91.9 L456.4,94.4 L456.5,97.1 L456.7,99.9 L456.8,102.9 L457.0,106.1 L457.1,109.4 L457.2,112.8 L457.4,116.4 L457.5,120.2 L457.7,124.0 L457.8,127.9 L457.9,131.9 L458.1,136.1 L458.2,140.2 L458.3,144.5 L458.5,148.8 L458.6,153.1 L458.8,157.4 L458.9,161.8 L459.0,166.1 L459.2,170.4 L459.3,174.6 L459.5,178.8 L459.6,183.0 L459.7,187.1 L459.9,191.1 L460.0,195.1 L460.1,198.9 L460.3,202.7 L460.4,206.4 L460.6,209.9 L460.7,213.3 L460.8,216.5 L461.0,219.6 L461.1,222.6 L461.3,225.4 L461.4,228.0 L461.5,230.4 L461.7,232.6 L461.8,234.7 L461.9,236.5 L462.1,238.2 L462.2,239.6 L462.4,240.8 L462.5,241.8 L462.6,242.6 L462.8,243.2 L462.9,243.5 L463.1,243.6 L463.2,243.5 L463.3,243.2 L463.5,242.6 L463.6,241.8 L463.7,240.8 L463.9,239.6 L464.0,238.2 L464.2,236.5 L464.3,234.7 L464.4,232.6 L464.6,230.4 L464.7,228.0 L464.8,225.4 L465.0,222.6 L465.1,219.6 L465.3,216.5 L465.4,213.3 L465.5,209.9 L465.7,206.4 L465.8,202.7 L466.0,198.9 L466.1,195.1 L466.2,191.1 L466.4,187.1 L466.5,183.0 L466.6,178.8 L466.8,174.6 L466.9,170.4 L467.1,166.1 L467.2,161.8 L467.3,157.4 L467.5,153.1 L467.6,148.8 L467.8,144.5 L467.9,140.2 L468.0,136.1 L468.2,131.9 L468.3,127.9 L468.4,124.0 L468.6,120.1 L468.7,116.4 L468.9,112.8 L469.0,109.4 L469.1,106.1 L469.3,102.9 L469.4,99.9 L469.6,97.1 L469.7,94.4 L469.8,91.9 L470.0,89.7 L470.1,87.6 L470.2,85.7 L470.4,84.0 L470.5,82.6 L470.7,81.3 L470.8,80.3 L470.9,79.5 L471.1,79.0 L471.2,78.6 L471.4,78.5 L471.5,78.6 L471.6,79.0 L471.8,79.5 L471.9,80.3 L472.0,81.3 L472.2,82.6 L472.3,84.0 L472.5,85.7 L472.6,87.6 L472.7,89.7 L472.9,91.9 L473.0,94.4 L473.1,97.1 L473.3,99.9 L473.4,102.9 L473.6,106.1 L473.7,109.4 L473.8,112.8 L474.0,116.4 L474.1,120.2 L474.3,124.0 L474.4,127.9 L474.5,131.9 L474.7,136.1 L474.8,140.2 L474.9,144.5 L475.1,148.8 L475.2,153.1 L475.4,157.4 L475.5,161.8 L475.6,166.1 L475.8,170.4 L475.9,174.6 L476.1,178.8 L476.2,183.0 L476.3,187.1 L476.5,191.1 L476.6,195.1 L476.7,198.9 L476.9,202.7 L477.0,206.4 L477.2,209.9" fill="none" stroke="#ff0000" stroke-width="2.5" stroke-linecap="round" stroke-linejoin="round" stroke-dasharray="5.2 5.2"/>
</g>
<g class="t">
<text x="44.4" y="39.90" text-anchor="end">120</text>
<text x="44.4" y="65.28" text-anchor="end">100</text>
<text x="44.4" y="90.66" text-anchor="end">80</text>
<text x="44.4" y="116.04" text-anchor="end">60</text>
<text x="44.4" y="141.42" text-anchor="end">40</text>
<text x="44.4" y="166.80" text-anchor="end">20</text>
<text x="44.4" y="192.18" text-anchor="end">0</text>
<text x="44.4" y="217.56" text-anchor="end">−20</text>
<text x="44.4" y="242.94" text-anchor="end">−40</text>
<text x="44.4" y="268.32" text-anchor="end">−60</text>
<text x="44.4" y="293.70" text-anchor="end">−80</text>
<text x="491.2" y="39.90">0.15</text>
<text x="491.2" y="82.20">0.10</text>
<text x="491.2" y="124.50">0.05</text>
<text x="491.2" y="166.80">0.00</text>
<text x="491.2" y="209.10">−0.05</text>
<text x="491.2" y="251.40">−0.10</text>
<text x="491.2" y="293.70">−0.15</text>
<text x="60.50" y="316.0" text-anchor="middle">0</text>
<text x="143.50" y="316.0" text-anchor="middle">5</text>
<text x="226.50" y="316.0" text-anchor="middle">10</text>
<text x="309.50" y="316.0" text-anchor="middle">15</text>
<text x="392.50" y="316.0" text-anchor="middle">20</text>
<text x="475.50" y="316.0" text-anchor="middle">25</text>
</g>
<line x1="66.25" y1="12.8" x2="98.75" y2="12.8" stroke="#0070c0" stroke-width="2.7" stroke-linecap="round"/>
<text x="103.3" y="17.3" font-size="15.9" textLength="78.8" lengthAdjust="spacingAndGlyphs">Axial Stress</text>
<line x1="206.1" y1="12.8" x2="236" y2="12.8" stroke="#000" stroke-width="2.6" stroke-linecap="round" stroke-dasharray="0.01 5.86"/>
<text x="243" y="17.3" font-size="15.9" textLength="101.7" lengthAdjust="spacingAndGlyphs">Effective Stress</text>
<line x1="368.65" y1="12.6" x2="401.05" y2="12.6" stroke="#ff0000" stroke-width="2.5" stroke-linecap="round" stroke-dasharray="4.9 5.65"/>
<text x="405.6" y="17.3" font-size="15.9" textLength="79.1" lengthAdjust="spacingAndGlyphs">Axial Strain</text>
<text class="b" x="198" y="341.8" font-size="17.6" textLength="140" lengthAdjust="spacingAndGlyphs">Cycle of Loading</text>
<text class="b" transform="translate(16,195.2) rotate(-90)" font-size="17.6" textLength="93.3" lengthAdjust="spacingAndGlyphs">Stress (kPa)</text>
<text class="b" transform="translate(541.7,203.8) rotate(-90)" font-size="17.6" textLength="127" lengthAdjust="spacingAndGlyphs">Axial Strain (%)</text>
</svg>
</body></html>
